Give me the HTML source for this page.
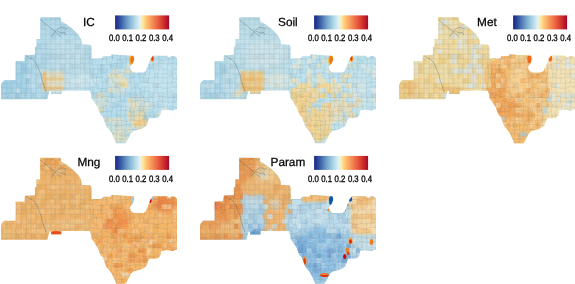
<!DOCTYPE html><html><head><meta charset="utf-8"><style>html,body{margin:0;padding:0;background:#fff;}svg{display:block}</style></head><body>
<svg width="575" height="284" viewBox="0 0 575 284" text-rendering="geometricPrecision">
<defs>
<clipPath id="m"><path d="M40.2,17.2 L60.5,17.2 L61.2,21.3 L63.5,22.5 L67.6,25.1 L72.9,29.3 L76.0,32.3 L78.2,34.6 L80.6,38.6 L81.6,41.0 L81.8,44.6 L89.7,44.7 L91.0,45.5 L91.6,47.0 L91.6,58.6 L100.7,58.6 L102.5,57.8 L103.5,56.3 L110.8,56.3 L111.5,54.6 L120.0,55.1 L133.0,55.7 L134.0,56.1 L134.2,59.5 L132.5,63.5 L130.0,66.5 L130.5,70.0 L133.5,72.6 L143.5,72.6 L145.8,70.7 L148.3,64.4 L150.5,59.1 L153.0,55.8 L166.9,55.8 L168.0,57.0 L170.4,57.5 L171.1,56.0 L175.0,56.3 L176.8,58.1 L177.0,60.0 L177.0,109.0 L172.4,110.5 L168.2,109.8 L164.6,109.8 L161.1,110.5 L160.4,114.7 L158.3,117.6 L154.1,118.3 L149.5,118.0 L148.0,120.5 L147.3,123.5 L146.0,126.0 L143.5,127.8 L140.5,129.0 L137.0,130.0 L133.5,131.0 L130.8,133.0 L129.8,135.6 L127.0,140.8 L125.5,143.3 L116.2,143.3 L114.7,139.4 L112.9,135.2 L111.7,132.8 L109.3,129.8 L106.4,126.2 L104.6,121.4 L102.8,116.8 L100.4,114.3 L98.6,109.5 L98.0,107.4 L95.8,104.2 L93.7,101.0 L91.6,98.4 L91.1,94.2 L90.0,90.5 L61.5,90.5 L61.5,94.0 L51.0,94.0 L51.0,90.7 L49.5,90.7 L47.3,99.2 L1.0,99.2 L1.0,86.0 L1.8,83.0 L4.2,80.3 L15.7,80.3 L15.7,61.2 L24.5,61.2 L24.9,55.3 L34.9,54.8 L34.9,46.8 L36.5,46.8 L36.5,38.9 L40.2,38.9 Z"/></clipPath>
<clipPath id="nw"><rect x="0" y="0" width="91" height="145"/></clipPath>
<clipPath id="se"><rect x="91" y="0" width="90" height="145"/></clipPath>
<linearGradient id="cb" x1="0" x2="1" y1="0" y2="0"><stop offset="0.0" stop-color="#1c2a85"/><stop offset="0.04" stop-color="#23388f"/><stop offset="0.12" stop-color="#3d63aa"/><stop offset="0.24" stop-color="#74a6cd"/><stop offset="0.36" stop-color="#aed6e6"/><stop offset="0.46" stop-color="#e4f3f5"/><stop offset="0.51" stop-color="#fee9a2"/><stop offset="0.57" stop-color="#fdc878"/><stop offset="0.67" stop-color="#f8985a"/><stop offset="0.79" stop-color="#ea6040"/><stop offset="0.9" stop-color="#cf2f2c"/><stop offset="1.0" stop-color="#a6062a"/></linearGradient>
<filter id="bl" x="-20%" y="-20%" width="140%" height="140%"><feGaussianBlur stdDeviation="2.2"/></filter>
<filter id="bl3" x="-20%" y="-20%" width="140%" height="140%"><feGaussianBlur stdDeviation="0.5"/></filter>
<filter id="bl2" x="-20%" y="-20%" width="140%" height="140%"><feGaussianBlur stdDeviation="0.8"/></filter>
<pattern id="tex" width="39.20" height="39.20" patternUnits="userSpaceOnUse" patternTransform="translate(1.6,0)"><rect x="0.00" y="0.00" width="4.90" height="4.90" fill="#fff" fill-opacity="0.05"/><rect x="0.00" y="9.80" width="4.90" height="4.90" fill="#fff" fill-opacity="0.08"/><rect x="0.00" y="14.70" width="4.90" height="4.90" fill="#000" fill-opacity="0.02"/><rect x="0.00" y="19.60" width="4.90" height="4.90" fill="#000" fill-opacity="0.02"/><rect x="0.00" y="24.50" width="4.90" height="4.90" fill="#000" fill-opacity="0.02"/><rect x="0.00" y="29.40" width="4.90" height="4.90" fill="#fff" fill-opacity="0.07"/><rect x="4.90" y="0.00" width="4.90" height="4.90" fill="#fff" fill-opacity="0.06"/><rect x="4.90" y="14.70" width="4.90" height="4.90" fill="#000" fill-opacity="0.02"/><rect x="4.90" y="24.50" width="4.90" height="4.90" fill="#fff" fill-opacity="0.10"/><rect x="4.90" y="29.40" width="4.90" height="4.90" fill="#fff" fill-opacity="0.05"/><rect x="4.90" y="34.30" width="4.90" height="4.90" fill="#fff" fill-opacity="0.06"/><rect x="9.80" y="4.90" width="4.90" height="4.90" fill="#fff" fill-opacity="0.08"/><rect x="9.80" y="14.70" width="4.90" height="4.90" fill="#000" fill-opacity="0.03"/><rect x="9.80" y="19.60" width="4.90" height="4.90" fill="#fff" fill-opacity="0.04"/><rect x="9.80" y="24.50" width="4.90" height="4.90" fill="#fff" fill-opacity="0.09"/><rect x="9.80" y="29.40" width="4.90" height="4.90" fill="#000" fill-opacity="0.02"/><rect x="9.80" y="34.30" width="4.90" height="4.90" fill="#000" fill-opacity="0.03"/><rect x="14.70" y="0.00" width="4.90" height="4.90" fill="#fff" fill-opacity="0.10"/><rect x="14.70" y="9.80" width="4.90" height="4.90" fill="#fff" fill-opacity="0.08"/><rect x="14.70" y="14.70" width="4.90" height="4.90" fill="#000" fill-opacity="0.04"/><rect x="14.70" y="24.50" width="4.90" height="4.90" fill="#fff" fill-opacity="0.11"/><rect x="14.70" y="29.40" width="4.90" height="4.90" fill="#fff" fill-opacity="0.07"/><rect x="19.60" y="0.00" width="4.90" height="4.90" fill="#fff" fill-opacity="0.07"/><rect x="19.60" y="4.90" width="4.90" height="4.90" fill="#fff" fill-opacity="0.09"/><rect x="19.60" y="14.70" width="4.90" height="4.90" fill="#000" fill-opacity="0.04"/><rect x="19.60" y="19.60" width="4.90" height="4.90" fill="#fff" fill-opacity="0.09"/><rect x="19.60" y="24.50" width="4.90" height="4.90" fill="#000" fill-opacity="0.03"/><rect x="19.60" y="29.40" width="4.90" height="4.90" fill="#000" fill-opacity="0.04"/><rect x="24.50" y="0.00" width="4.90" height="4.90" fill="#000" fill-opacity="0.03"/><rect x="24.50" y="4.90" width="4.90" height="4.90" fill="#fff" fill-opacity="0.09"/><rect x="24.50" y="24.50" width="4.90" height="4.90" fill="#fff" fill-opacity="0.07"/><rect x="24.50" y="34.30" width="4.90" height="4.90" fill="#fff" fill-opacity="0.07"/><rect x="29.40" y="0.00" width="4.90" height="4.90" fill="#fff" fill-opacity="0.05"/><rect x="29.40" y="4.90" width="4.90" height="4.90" fill="#fff" fill-opacity="0.09"/><rect x="29.40" y="9.80" width="4.90" height="4.90" fill="#fff" fill-opacity="0.06"/><rect x="29.40" y="14.70" width="4.90" height="4.90" fill="#000" fill-opacity="0.04"/><rect x="29.40" y="19.60" width="4.90" height="4.90" fill="#fff" fill-opacity="0.07"/><rect x="29.40" y="24.50" width="4.90" height="4.90" fill="#000" fill-opacity="0.04"/><rect x="34.30" y="0.00" width="4.90" height="4.90" fill="#fff" fill-opacity="0.07"/><rect x="34.30" y="4.90" width="4.90" height="4.90" fill="#000" fill-opacity="0.04"/><rect x="34.30" y="14.70" width="4.90" height="4.90" fill="#fff" fill-opacity="0.05"/><rect x="34.30" y="19.60" width="4.90" height="4.90" fill="#fff" fill-opacity="0.06"/><rect x="34.30" y="24.50" width="4.90" height="4.90" fill="#000" fill-opacity="0.03"/><rect x="34.30" y="29.40" width="4.90" height="4.90" fill="#fff" fill-opacity="0.04"/><rect x="34.30" y="34.30" width="4.90" height="4.90" fill="#000" fill-opacity="0.02"/><path d="M2.45,0 V39.20 M0,2.45 H39.20 M7.35,0 V39.20 M0,7.35 H39.20 M12.25,0 V39.20 M0,12.25 H39.20 M17.15,0 V39.20 M0,17.15 H39.20 M22.05,0 V39.20 M0,22.05 H39.20 M26.95,0 V39.20 M0,26.95 H39.20 M31.85,0 V39.20 M0,31.85 H39.20 M36.75,0 V39.20 M0,36.75 H39.20" stroke="#6f7f8a" stroke-width="0.4" stroke-opacity="0.12" fill="none"/><path d="M0.00,0 V39.20 M0,0.00 H39.20 M4.90,0 V39.20 M0,4.90 H39.20 M9.80,0 V39.20 M0,9.80 H39.20 M14.70,0 V39.20 M0,14.70 H39.20 M19.60,0 V39.20 M0,19.60 H39.20 M24.50,0 V39.20 M0,24.50 H39.20 M29.40,0 V39.20 M0,29.40 H39.20 M34.30,0 V39.20 M0,34.30 H39.20" stroke="#5f6f7a" stroke-width="0.5" stroke-opacity="0.38" fill="none"/></pattern>
<pattern id="tex2" width="39.20" height="39.20" patternUnits="userSpaceOnUse" patternTransform="translate(1.6,0)"><rect x="0.00" y="0.00" width="4.90" height="4.90" fill="#fff" fill-opacity="0.05"/><rect x="0.00" y="9.80" width="4.90" height="4.90" fill="#fff" fill-opacity="0.08"/><rect x="0.00" y="14.70" width="4.90" height="4.90" fill="#000" fill-opacity="0.02"/><rect x="0.00" y="19.60" width="4.90" height="4.90" fill="#000" fill-opacity="0.02"/><rect x="0.00" y="24.50" width="4.90" height="4.90" fill="#000" fill-opacity="0.02"/><rect x="0.00" y="29.40" width="4.90" height="4.90" fill="#fff" fill-opacity="0.07"/><rect x="4.90" y="0.00" width="4.90" height="4.90" fill="#fff" fill-opacity="0.06"/><rect x="4.90" y="14.70" width="4.90" height="4.90" fill="#000" fill-opacity="0.02"/><rect x="4.90" y="24.50" width="4.90" height="4.90" fill="#fff" fill-opacity="0.10"/><rect x="4.90" y="29.40" width="4.90" height="4.90" fill="#fff" fill-opacity="0.05"/><rect x="4.90" y="34.30" width="4.90" height="4.90" fill="#fff" fill-opacity="0.06"/><rect x="9.80" y="4.90" width="4.90" height="4.90" fill="#fff" fill-opacity="0.08"/><rect x="9.80" y="14.70" width="4.90" height="4.90" fill="#000" fill-opacity="0.03"/><rect x="9.80" y="19.60" width="4.90" height="4.90" fill="#fff" fill-opacity="0.04"/><rect x="9.80" y="24.50" width="4.90" height="4.90" fill="#fff" fill-opacity="0.09"/><rect x="9.80" y="29.40" width="4.90" height="4.90" fill="#000" fill-opacity="0.02"/><rect x="9.80" y="34.30" width="4.90" height="4.90" fill="#000" fill-opacity="0.03"/><rect x="14.70" y="0.00" width="4.90" height="4.90" fill="#fff" fill-opacity="0.10"/><rect x="14.70" y="9.80" width="4.90" height="4.90" fill="#fff" fill-opacity="0.08"/><rect x="14.70" y="14.70" width="4.90" height="4.90" fill="#000" fill-opacity="0.04"/><rect x="14.70" y="24.50" width="4.90" height="4.90" fill="#fff" fill-opacity="0.11"/><rect x="14.70" y="29.40" width="4.90" height="4.90" fill="#fff" fill-opacity="0.07"/><rect x="19.60" y="0.00" width="4.90" height="4.90" fill="#fff" fill-opacity="0.07"/><rect x="19.60" y="4.90" width="4.90" height="4.90" fill="#fff" fill-opacity="0.09"/><rect x="19.60" y="14.70" width="4.90" height="4.90" fill="#000" fill-opacity="0.04"/><rect x="19.60" y="19.60" width="4.90" height="4.90" fill="#fff" fill-opacity="0.09"/><rect x="19.60" y="24.50" width="4.90" height="4.90" fill="#000" fill-opacity="0.03"/><rect x="19.60" y="29.40" width="4.90" height="4.90" fill="#000" fill-opacity="0.04"/><rect x="24.50" y="0.00" width="4.90" height="4.90" fill="#000" fill-opacity="0.03"/><rect x="24.50" y="4.90" width="4.90" height="4.90" fill="#fff" fill-opacity="0.09"/><rect x="24.50" y="24.50" width="4.90" height="4.90" fill="#fff" fill-opacity="0.07"/><rect x="24.50" y="34.30" width="4.90" height="4.90" fill="#fff" fill-opacity="0.07"/><rect x="29.40" y="0.00" width="4.90" height="4.90" fill="#fff" fill-opacity="0.05"/><rect x="29.40" y="4.90" width="4.90" height="4.90" fill="#fff" fill-opacity="0.09"/><rect x="29.40" y="9.80" width="4.90" height="4.90" fill="#fff" fill-opacity="0.06"/><rect x="29.40" y="14.70" width="4.90" height="4.90" fill="#000" fill-opacity="0.04"/><rect x="29.40" y="19.60" width="4.90" height="4.90" fill="#fff" fill-opacity="0.07"/><rect x="29.40" y="24.50" width="4.90" height="4.90" fill="#000" fill-opacity="0.04"/><rect x="34.30" y="0.00" width="4.90" height="4.90" fill="#fff" fill-opacity="0.07"/><rect x="34.30" y="4.90" width="4.90" height="4.90" fill="#000" fill-opacity="0.04"/><rect x="34.30" y="14.70" width="4.90" height="4.90" fill="#fff" fill-opacity="0.05"/><rect x="34.30" y="19.60" width="4.90" height="4.90" fill="#fff" fill-opacity="0.06"/><rect x="34.30" y="24.50" width="4.90" height="4.90" fill="#000" fill-opacity="0.03"/><rect x="34.30" y="29.40" width="4.90" height="4.90" fill="#fff" fill-opacity="0.04"/><rect x="34.30" y="34.30" width="4.90" height="4.90" fill="#000" fill-opacity="0.02"/></pattern>
<path id="jn" d="M83.2,45.4L88.8,45.1M83.2,45.4L84.2,49.9M84.2,49.9L89.0,50.8M83.3,54.9L82.6,59.4M82.6,59.4L88.9,59.3M82.6,59.4L83.6,64.7M83.6,64.7L89.1,63.9M83.6,64.7L82.4,68.4M82.4,68.4L87.1,69.1M82.4,68.4L82.4,74.2M82.4,74.2L88.6,73.0M82.4,74.2L83.7,77.2M83.7,77.2L87.1,77.8M83.7,77.2L84.4,83.9M84.4,83.9L89.0,83.5M84.4,83.9L83.6,87.9M83.6,87.9L87.2,87.0M82.5,91.2L87.1,91.3M82.5,91.2L83.4,96.0M83.4,96.0L88.7,96.3M83.4,96.0L82.6,101.1M82.6,101.1L88.1,101.6M82.6,101.1L82.3,106.3M83.2,111.9L87.2,111.4M83.2,111.9L83.3,116.1M83.3,116.1L87.2,115.6M83.3,116.1L83.3,120.9M83.3,120.9L87.4,120.0M83.2,124.7L89.0,125.9M83.2,124.7L84.4,131.0M84.4,131.0L87.6,130.7M84.0,135.1L87.4,134.4M84.0,135.1L82.9,138.7M82.9,138.7L88.8,139.6M82.9,138.7L82.8,143.1M82.8,143.1L87.1,145.1M82.8,143.1L83.9,148.5M83.9,148.5L87.4,148.2M88.8,45.1L93.3,44.9M88.8,45.1L89.0,50.8M89.0,50.8L92.3,49.1M89.0,50.8L86.9,54.1M86.9,54.1L91.8,54.9M86.9,54.1L88.9,59.3M88.9,59.3L92.1,59.6M88.9,59.3L89.1,63.9M89.1,63.9L92.4,64.0M89.1,63.9L87.1,69.1M87.1,69.1L93.7,68.8M88.6,73.0L92.9,74.3M88.6,73.0L87.1,77.8M87.1,77.8L92.0,77.4M87.1,77.8L89.0,83.5M89.0,83.5L87.2,87.0M87.2,87.0L92.1,86.9M87.2,87.0L87.1,91.3M87.1,91.3L93.2,93.3M88.7,96.3L92.0,98.0M88.7,96.3L88.1,101.6M88.1,101.6L93.5,101.9M88.1,101.6L87.3,106.9M87.3,106.9L92.5,105.5M87.3,106.9L87.2,111.4M87.2,111.4L91.7,112.1M87.2,111.4L87.2,115.6M87.2,115.6L87.4,120.0M87.4,120.0L92.2,121.2M87.4,120.0L89.0,125.9M89.0,125.9L92.9,124.7M89.0,125.9L87.6,130.7M87.6,130.7L87.4,134.4M87.4,134.4L91.8,134.0M87.4,134.4L88.8,139.6M88.8,139.6L92.8,140.1M88.8,139.6L87.1,145.1M87.1,145.1L93.0,143.5M87.1,145.1L87.4,148.2M87.4,148.2L93.6,148.0M93.3,44.9L96.3,44.8M93.3,44.9L92.3,49.1M92.3,49.1L97.3,49.0M91.8,54.9L96.7,54.4M92.1,59.6L97.6,58.6M92.1,59.6L92.4,64.0M92.4,64.0L97.1,65.0M92.4,64.0L93.7,68.8M93.7,68.8L98.5,69.1M93.7,68.8L92.9,74.3M92.9,74.3L97.8,73.7M92.9,74.3L92.0,77.4M92.0,77.4L96.6,77.2M92.0,77.4L93.6,83.6M93.6,83.6L96.3,83.8M92.1,86.9L97.8,88.6M92.1,86.9L93.2,93.3M93.2,93.3L96.3,92.6M93.2,93.3L92.0,98.0M92.0,98.0L97.4,97.5M93.5,101.9L92.5,105.5M92.5,105.5L96.5,106.5M92.5,105.5L91.7,112.1M91.7,112.1L97.9,112.0M91.7,112.1L92.1,116.3M92.1,116.3L92.2,121.2M92.2,121.2L98.0,121.4M92.2,121.2L92.9,124.7M92.9,124.7L97.1,125.6M92.9,124.7L92.0,130.4M92.0,130.4L91.8,134.0M91.8,134.0L92.8,140.1M92.8,140.1L98.2,139.5M92.8,140.1L93.0,143.5M93.0,143.5L97.7,143.7M93.0,143.5L93.6,148.0M96.3,44.8L101.2,45.6M97.3,49.0L103.2,50.8M96.7,54.4L102.6,54.5M96.7,54.4L97.6,58.6M97.6,58.6L102.6,59.6M97.1,65.0L102.0,64.8M97.1,65.0L98.5,69.1M98.5,69.1L101.2,69.4M98.5,69.1L97.8,73.7M97.8,73.7L96.6,77.2M96.6,77.2L102.1,77.6M96.6,77.2L96.3,83.8M96.3,83.8L97.8,88.6M97.8,88.6L102.4,88.5M96.3,92.6L101.6,91.2M96.3,92.6L97.4,97.5M97.4,97.5L97.0,102.8M97.0,102.8L101.4,101.0M97.0,102.8L96.5,106.5M97.9,112.0L102.0,112.0M97.9,112.0L97.9,116.2M97.9,116.2L101.7,116.2M97.9,116.2L98.0,121.4M98.0,121.4L101.4,120.3M98.0,121.4L97.1,125.6M97.1,125.6L102.8,126.1M97.1,125.6L98.3,130.7M98.3,130.7L102.9,129.6M98.3,130.7L97.2,135.2M97.2,135.2L102.3,134.2M97.2,135.2L98.2,139.5M98.2,139.5L101.3,139.3M97.7,143.7L102.8,144.8M97.7,143.7L97.6,148.9M101.2,45.6L106.3,44.6M101.2,45.6L103.2,50.8M103.2,50.8L106.7,49.5M103.2,50.8L102.6,54.5M102.6,54.5L106.2,54.5M102.6,54.5L102.6,59.6M102.6,59.6L107.1,59.4M102.6,59.6L102.0,64.8M102.0,64.8L106.4,64.8M102.0,64.8L101.2,69.4M101.2,69.4L107.9,68.7M101.2,69.4L101.1,73.7M101.1,73.7L105.9,72.5M101.1,73.7L102.1,77.6M102.1,77.6L102.5,82.9M102.5,82.9L107.3,83.1M102.5,82.9L102.4,88.5M102.4,88.5L106.4,88.2M102.4,88.5L101.6,91.2M101.6,91.2L105.7,91.5M101.6,91.2L101.7,97.4M101.7,97.4L106.7,96.0M101.7,97.4L101.4,101.0M101.4,101.0L107.5,101.1M103.0,106.8L106.0,105.4M103.0,106.8L102.0,112.0M102.0,112.0L107.1,111.0M101.7,116.2L107.1,116.1M101.7,116.2L101.4,120.3M101.4,120.3L107.5,121.5M101.4,120.3L102.8,126.1M102.8,126.1L107.2,124.5M102.8,126.1L102.9,129.6M102.9,129.6L106.7,129.2M102.3,134.2L105.7,134.5M102.3,134.2L101.3,139.3M101.3,139.3L107.3,138.6M101.3,139.3L102.8,144.8M102.8,144.8L106.3,143.7M102.6,149.7L107.2,148.7M106.3,44.6L111.8,45.9M106.7,49.5L111.3,50.6M106.7,49.5L106.2,54.5M106.2,54.5L112.4,53.8M106.2,54.5L107.1,59.4M107.1,59.4L106.4,64.8M106.4,64.8L110.7,64.0M107.9,68.7L105.9,72.5M105.9,72.5L107.6,77.2M107.6,77.2L112.3,78.9M107.6,77.2L107.3,83.1M107.3,83.1L106.4,88.2M106.4,88.2L111.8,87.0M106.4,88.2L105.7,91.5M105.7,91.5L112.0,93.0M106.7,96.0L111.8,97.5M106.7,96.0L107.5,101.1M107.5,101.1L110.9,102.6M107.5,101.1L106.0,105.4M106.0,105.4L112.6,107.5M106.0,105.4L107.1,111.0M107.1,111.0L111.6,111.7M107.1,111.0L107.1,116.1M107.1,116.1L111.1,116.7M107.1,116.1L107.5,121.5M107.2,124.5L110.6,125.1M107.2,124.5L106.7,129.2M106.7,129.2L111.6,130.5M106.7,129.2L105.7,134.5M105.7,134.5L111.5,133.6M105.7,134.5L107.3,138.6M107.3,138.6L112.2,138.3M107.3,138.6L106.3,143.7M106.3,143.7L112.2,143.3M106.3,143.7L107.2,148.7M107.2,148.7L111.1,149.3M111.8,45.9L115.4,44.5M111.8,45.9L111.3,50.6M111.3,50.6L116.2,50.5M112.4,53.8L116.9,55.1M112.4,53.8L112.5,59.9M112.5,59.9L110.7,64.0M110.7,64.0L117.2,63.2M110.7,64.0L111.8,69.7M111.8,69.7L115.6,68.9M111.2,73.7L115.7,74.0M111.2,73.7L112.3,78.9M112.3,78.9L112.5,82.8M112.5,82.8L117.0,83.0M111.8,87.0L115.8,87.3M111.8,87.0L112.0,93.0M112.0,93.0L111.8,97.5M111.8,97.5L115.6,97.8M111.8,97.5L110.9,102.6M110.9,102.6L117.2,101.8M112.6,107.5L116.4,105.7M112.6,107.5L111.6,111.7M111.6,111.7L111.1,116.7M111.1,116.7L112.3,120.2M112.3,120.2L117.2,120.5M112.3,120.2L110.6,125.1M110.6,125.1L116.0,125.9M110.6,125.1L111.6,130.5M111.6,130.5L111.5,133.6M111.5,133.6L116.6,133.6M111.5,133.6L112.2,138.3M112.2,138.3L116.3,139.1M112.2,138.3L112.2,143.3M112.2,143.3L117.2,144.9M112.2,143.3L111.1,149.3M111.1,149.3L115.7,148.6M115.4,44.5L120.1,45.2M115.4,44.5L116.2,50.5M116.2,50.5L121.6,50.9M116.2,50.5L116.9,55.1M116.9,55.1L120.8,54.3M116.9,55.1L117.2,59.4M117.2,59.4L120.2,59.7M117.2,59.4L117.2,63.2M117.2,63.2L121.8,63.3M117.2,63.2L115.6,68.9M115.6,68.9L121.5,67.8M115.6,68.9L115.7,74.0M115.7,74.0L120.2,72.9M115.7,74.0L116.5,78.3M117.0,83.0L120.6,83.2M117.0,83.0L115.8,87.3M115.8,87.3L120.0,88.1M115.8,87.3L117.0,93.2M117.0,93.2L115.6,97.8M115.6,97.8L120.4,96.3M115.6,97.8L117.2,101.8M117.2,101.8L121.0,101.6M116.4,105.7L120.6,106.2M116.4,105.7L116.3,111.1M116.3,111.1L121.0,110.4M116.3,111.1L116.4,114.8M116.4,114.8L120.2,116.1M116.4,114.8L117.2,120.5M117.2,120.5L121.2,120.6M117.2,120.5L116.0,125.9M116.0,125.9L121.7,125.4M116.0,125.9L116.3,129.9M116.3,129.9L121.7,129.3M116.3,129.9L116.6,133.6M116.6,133.6L121.4,135.3M116.6,133.6L116.3,139.1M116.3,139.1L121.8,138.9M116.3,139.1L117.2,144.9M117.2,144.9L120.5,144.9M117.2,144.9L115.7,148.6M115.7,148.6L120.3,149.8M120.1,45.2L121.6,50.9M121.6,50.9L125.0,50.5M121.6,50.9L120.8,54.3M120.8,54.3L125.1,53.8M120.8,54.3L120.2,59.7M120.2,59.7L126.3,59.2M120.2,59.7L121.8,63.3M121.8,63.3L126.2,63.3M121.8,63.3L121.5,67.8M121.5,67.8L125.4,69.2M120.2,72.9L124.5,72.8M120.6,83.2L120.0,88.1M120.0,88.1L120.1,92.3M120.1,92.3L125.6,92.7M120.1,92.3L120.4,96.3M120.4,96.3L121.0,101.6M121.0,101.6L124.7,100.7M120.6,106.2L125.7,106.4M120.6,106.2L121.0,110.4M121.0,110.4L125.8,110.3M121.0,110.4L120.2,116.1M120.2,116.1L124.9,115.1M120.2,116.1L121.2,120.6M121.2,120.6L126.3,121.6M121.2,120.6L121.7,125.4M121.7,125.4L126.5,124.3M121.7,125.4L121.7,129.3M121.7,129.3L124.6,130.9M121.7,129.3L121.4,135.3M121.4,135.3L125.5,135.2M121.4,135.3L121.8,138.9M121.8,138.9L125.2,139.2M121.8,138.9L120.5,144.9M120.5,144.9L125.6,143.8M120.5,144.9L120.3,149.8M126.5,44.5L130.7,46.1M126.5,44.5L125.0,50.5M125.0,50.5L129.6,49.9M125.0,50.5L125.1,53.8M125.1,53.8L126.3,59.2M126.3,59.2L129.6,58.7M126.3,59.2L126.2,63.3M126.2,63.3L125.4,69.2M125.4,69.2L131.2,69.5M125.4,69.2L124.5,72.8M124.5,72.8L130.8,74.3M124.5,72.8L126.0,79.1M126.0,79.1L130.6,78.0M126.6,82.1L130.5,82.9M125.6,88.2L125.6,92.7M125.6,92.7L129.8,93.2M125.6,92.7L124.9,96.1M124.9,96.1L124.7,100.7M124.7,100.7L125.7,106.4M125.7,106.4L131.2,107.2M125.7,106.4L125.8,110.3M125.8,110.3L130.7,111.7M125.8,110.3L124.9,115.1M124.9,115.1L130.9,115.6M124.9,115.1L126.3,121.6M126.3,121.6L130.8,119.6M126.3,121.6L126.5,124.3M126.5,124.3L130.0,125.1M126.5,124.3L124.6,130.9M124.6,130.9L129.2,129.6M124.6,130.9L125.5,135.2M125.5,135.2L130.6,134.9M125.5,135.2L125.2,139.2M125.6,143.8L125.8,147.6M125.8,147.6L130.7,148.9M130.7,46.1L135.1,45.1M129.6,49.9L136.1,50.3M130.8,54.5L135.4,55.3M129.6,58.7L136.1,58.4M129.6,58.7L130.3,63.0M130.3,63.0L135.3,64.6M130.3,63.0L131.2,69.5M131.2,69.5L134.5,68.6M131.2,69.5L130.8,74.3M130.6,78.0L134.7,77.3M130.6,78.0L130.5,82.9M130.5,82.9L131.4,88.3M131.4,88.3L135.1,87.6M131.4,88.3L129.8,93.2M129.8,93.2L136.0,92.4M129.8,93.2L130.8,97.6M130.8,97.6L136.1,97.3M130.8,97.6L131.0,101.5M131.0,101.5L135.7,100.8M131.0,101.5L131.2,107.2M131.2,107.2L130.7,111.7M130.7,111.7L134.0,112.0M130.7,111.7L130.9,115.6M130.9,115.6L134.3,115.7M130.9,115.6L130.8,119.6M130.8,119.6L134.3,120.5M130.8,119.6L130.0,125.1M130.0,125.1L135.2,124.2M130.0,125.1L129.2,129.6M129.2,129.6L136.0,129.7M130.7,143.6L135.3,144.1M130.7,143.6L130.7,148.9M130.7,148.9L134.5,149.2M135.1,45.1L139.3,44.2M136.1,50.3L139.1,49.0M136.1,50.3L135.4,55.3M135.4,55.3L136.1,58.4M136.1,58.4L139.5,60.3M136.1,58.4L135.3,64.6M135.3,64.6L140.2,63.1M135.3,64.6L134.5,68.6M134.5,68.6L140.8,69.8M134.5,68.6L134.0,72.8M134.0,72.8L138.8,74.4M134.0,72.8L134.7,77.3M134.7,77.3L134.5,83.8M134.5,83.8L140.7,82.3M134.5,83.8L135.1,87.6M135.1,87.6L139.8,88.6M135.1,87.6L136.0,92.4M136.0,92.4L136.1,97.3M136.1,97.3L140.8,97.7M136.1,97.3L135.7,100.8M135.7,100.8L139.9,100.9M135.7,100.8L135.2,107.0M135.2,107.0L140.0,106.3M135.2,107.0L134.0,112.0M134.0,112.0L139.0,110.1M134.0,112.0L134.3,115.7M134.3,115.7L139.8,115.0M134.3,115.7L134.3,120.5M134.3,120.5L139.6,120.9M135.2,124.2L139.6,124.7M135.2,124.2L136.0,129.7M136.0,129.7L139.9,129.7M136.0,129.7L135.1,134.8M135.1,134.8L140.3,134.7M135.1,134.8L134.7,138.8M135.3,144.1L134.5,149.2M134.5,149.2L138.9,149.6M139.3,44.2L139.1,49.0M139.1,49.0L144.1,49.5M139.1,49.0L138.9,55.3M138.9,55.3L144.8,54.8M138.9,55.3L139.5,60.3M139.5,60.3L144.6,59.7M139.5,60.3L140.2,63.1M140.2,63.1L145.0,63.4M140.2,63.1L140.8,69.8M140.8,69.8L138.8,74.4M138.8,74.4L145.3,74.3M138.8,74.4L139.5,78.2M139.5,78.2L143.4,77.2M139.5,78.2L140.7,82.3M140.7,82.3L143.9,82.7M139.8,88.6L144.7,86.7M139.8,88.6L140.2,92.2M140.2,92.2L144.5,91.4M140.2,92.2L140.8,97.7M140.8,97.7L143.5,97.4M140.8,97.7L139.9,100.9M139.9,100.9L144.5,102.0M140.0,106.3L144.1,106.4M140.0,106.3L139.0,110.1M139.0,110.1L143.8,110.8M139.0,110.1L139.8,115.0M139.8,115.0L144.9,116.5M139.8,115.0L139.6,120.9M139.6,120.9L143.5,119.7M139.6,120.9L139.6,124.7M139.6,124.7L145.1,125.5M139.6,124.7L139.9,129.7M139.9,129.7L140.3,134.7M140.3,134.7L144.2,134.1M140.3,134.7L140.8,140.3M140.8,140.3L145.1,139.0M140.8,140.3L140.2,143.4M140.2,143.4L144.7,145.1M140.2,143.4L138.9,149.6M138.9,149.6L144.0,148.8M145.0,45.6L149.6,46.2M145.0,45.6L144.1,49.5M144.1,49.5L144.8,54.8M144.8,54.8L148.2,55.5M144.8,54.8L144.6,59.7M144.6,59.7L148.2,58.5M144.6,59.7L145.0,63.4M145.0,63.4L143.8,69.9M143.8,69.9L149.5,68.4M143.8,69.9L145.3,74.3M145.3,74.3L149.7,72.6M145.3,74.3L143.4,77.2M143.4,77.2L148.5,78.6M143.4,77.2L143.9,82.7M143.9,82.7L148.2,82.5M144.7,86.7L149.6,88.0M144.7,86.7L144.5,91.4M144.5,91.4L148.6,91.5M144.5,91.4L143.5,97.4M143.5,97.4L148.8,97.5M143.5,97.4L144.5,102.0M144.5,102.0L148.8,100.9M144.5,102.0L144.1,106.4M144.1,106.4L149.6,106.6M144.1,106.4L143.8,110.8M143.8,110.8L144.9,116.5M144.9,116.5L150.0,115.7M144.9,116.5L143.5,119.7M143.5,119.7L149.8,120.1M143.5,119.7L145.1,125.5M145.1,125.5L148.7,125.0M145.1,125.5L145.0,129.3M145.0,129.3L150.1,130.8M145.0,129.3L144.2,134.1M144.2,134.1L148.5,134.3M145.1,139.0L148.8,139.0M145.1,139.0L144.7,145.1M144.7,145.1L148.9,143.8M144.7,145.1L144.0,148.8M144.0,148.8L148.4,148.8M149.6,46.2L154.5,45.4M149.6,46.2L148.9,49.7M148.9,49.7L154.5,50.1M148.9,49.7L148.2,55.5M148.2,55.5L153.1,55.3M148.2,58.5L154.6,58.9M149.2,64.1L149.5,68.4M149.5,68.4L153.9,68.9M149.5,68.4L149.7,72.6M149.7,72.6L148.5,78.6M148.5,78.6L154.5,77.2M148.5,78.6L148.2,82.5M148.2,82.5L153.9,83.5M148.2,82.5L149.6,88.0M149.6,88.0L148.6,91.5M148.6,91.5L154.3,93.2M148.6,91.5L148.8,97.5M148.8,97.5L152.9,97.3M148.8,97.5L148.8,100.9M148.8,100.9L153.0,102.2M148.8,100.9L149.6,106.6M149.6,106.6L154.1,105.8M150.0,112.1L153.2,111.7M150.0,112.1L150.0,115.7M150.0,115.7L153.8,116.4M150.0,115.7L149.8,120.1M149.8,120.1L153.6,120.1M149.8,120.1L148.7,125.0M148.7,125.0L154.8,125.6M150.1,130.8L153.8,130.0M150.1,130.8L148.5,134.3M148.8,139.0L154.7,139.1M148.8,139.0L148.9,143.8M148.9,143.8L154.5,144.4M148.9,143.8L148.4,148.8M148.4,148.8L154.6,149.4M154.5,45.4L159.2,46.2M154.5,45.4L154.5,50.1M154.5,50.1L159.5,50.3M154.5,50.1L153.1,55.3M153.1,55.3L158.6,55.2M154.6,58.9L159.2,59.2M154.6,58.9L152.7,64.1M152.7,64.1L158.3,63.3M152.7,64.1L153.9,68.9M153.9,68.9L159.0,69.9M153.9,68.9L154.8,73.8M154.8,73.8L158.2,72.8M154.8,73.8L154.5,77.2M154.5,77.2L157.8,78.0M154.5,77.2L153.9,83.5M153.9,83.5L158.0,83.9M153.9,83.5L152.9,86.7M152.9,86.7L157.5,87.2M152.9,86.7L154.3,93.2M154.3,93.2L157.7,92.6M154.3,93.2L152.9,97.3M152.9,97.3L159.1,96.3M152.9,97.3L153.0,102.2M153.0,102.2L157.5,101.6M153.0,102.2L154.1,105.8M154.1,105.8L158.7,107.3M154.1,105.8L153.2,111.7M153.2,111.7L153.8,116.4M153.8,116.4L157.8,115.2M153.8,116.4L153.6,120.1M153.6,120.1L157.9,121.0M153.6,120.1L154.8,125.6M154.8,125.6L158.7,124.6M154.8,125.6L153.8,130.0M153.8,130.0L157.8,129.4M153.8,130.0L154.3,135.1M154.3,135.1L154.7,139.1M154.7,139.1L158.1,139.4M154.7,139.1L154.5,144.4M154.5,144.4L159.2,144.0M154.5,144.4L154.6,149.4M154.6,149.4L158.0,149.6M159.2,46.2L164.1,45.0M159.2,46.2L159.5,50.3M159.5,50.3L158.6,55.2M158.6,55.2L159.2,59.2M159.2,59.2L162.2,60.4M159.2,59.2L158.3,63.3M158.3,63.3L163.9,63.8M158.3,63.3L159.0,69.9M159.0,69.9L163.3,68.8M159.0,69.9L158.2,72.8M158.2,72.8L157.8,78.0M157.8,78.0L163.5,77.6M157.8,78.0L158.0,83.9M158.0,83.9L162.1,82.8M158.0,83.9L157.5,87.2M157.5,87.2L162.9,88.3M157.5,87.2L157.7,92.6M157.7,92.6L163.7,92.5M157.7,92.6L159.1,96.3M159.1,96.3L162.4,96.2M159.1,96.3L157.5,101.6M157.5,101.6L162.8,101.2M157.5,101.6L158.7,107.3M158.7,107.3L164.0,106.4M158.7,107.3L157.5,110.2M157.5,110.2L157.8,115.2M157.8,115.2L162.7,115.9M157.8,115.2L157.9,121.0M157.9,121.0L162.4,121.1M157.9,121.0L158.7,124.6M158.7,124.6L162.1,125.9M158.7,124.6L157.8,129.4M157.8,129.4L157.8,135.2M157.8,135.2L162.3,134.1M158.1,139.4L159.2,144.0M159.2,144.0L163.2,143.9M159.2,144.0L158.0,149.6M158.0,149.6L164.2,148.9M164.1,45.0L168.7,44.9M164.1,45.0L163.3,51.0M163.3,51.0L168.5,49.8M163.2,54.1L168.8,53.8M162.2,60.4L168.6,58.8M162.2,60.4L163.9,63.8M163.9,63.8L168.0,64.2M163.3,68.8L167.1,69.5M163.3,68.8L162.7,74.6M162.7,74.6L167.5,73.1M163.5,77.6L167.0,77.8M163.5,77.6L162.1,82.8M162.1,82.8L167.8,83.4M162.9,88.3L167.6,88.0M163.7,92.5L162.4,96.2M162.4,96.2L167.8,98.0M162.4,96.2L162.8,101.2M162.8,101.2L168.6,102.0M162.8,101.2L164.0,106.4M164.0,106.4L163.5,112.2M163.5,112.2L168.4,110.5M163.5,112.2L162.7,115.9M162.7,115.9L168.0,115.7M162.7,115.9L162.4,121.1M162.4,121.1L162.1,125.9M162.1,125.9L164.0,130.6M164.0,130.6L168.2,129.4M164.0,130.6L162.3,134.1M162.3,134.1L167.6,134.7M162.3,134.1L163.7,138.4M163.7,138.4L167.5,138.9M163.7,138.4L163.2,143.9M164.2,148.9L167.4,148.0M168.7,44.9L173.1,44.9M168.7,44.9L168.5,49.8M168.5,49.8L168.8,53.8M168.6,58.8L173.3,58.5M168.6,58.8L168.0,64.2M168.0,64.2L171.8,63.2M168.0,64.2L167.1,69.5M167.1,69.5L167.5,73.1M167.5,73.1L167.0,77.8M167.0,77.8L167.8,83.4M167.8,83.4L171.7,82.3M167.8,83.4L167.6,88.0M167.6,88.0L171.8,86.8M167.6,88.0L167.0,92.1M167.0,92.1L172.4,91.4M167.0,92.1L167.8,98.0M167.8,98.0L173.5,96.8M167.8,98.0L168.6,102.0M168.6,102.0L172.6,102.0M168.6,102.0L166.8,106.1M166.8,106.1L173.2,107.1M166.8,106.1L168.4,110.5M168.4,110.5L172.3,110.7M168.4,110.5L168.0,115.7M168.0,115.7L172.4,114.7M168.0,115.7L166.8,121.6M166.8,121.6L172.4,120.9M166.8,121.6L168.6,124.6M168.6,124.6L168.2,129.4M168.2,129.4L167.6,134.7M167.6,134.7L171.5,134.2M167.6,134.7L167.5,138.9M167.5,138.9L172.3,139.6M167.7,144.4L171.7,143.7M167.7,144.4L167.4,148.0M167.4,148.0L172.6,149.3M173.1,44.9L178.0,45.5M173.1,44.9L173.6,50.1M173.6,50.1L176.5,50.6M173.1,54.3L178.2,54.8M173.1,54.3L173.3,58.5M173.3,58.5L171.8,63.2M171.8,63.2L176.5,64.6M171.8,63.2L173.0,69.3M173.0,69.3L178.4,68.8M173.0,69.3L171.9,73.3M171.9,73.3L177.8,74.2M171.9,73.3L173.3,78.4M173.3,78.4L176.6,79.2M173.3,78.4L171.7,82.3M171.7,82.3L177.6,82.2M171.7,82.3L171.8,86.8M171.8,86.8L176.4,87.0M172.4,91.4L173.5,96.8M173.5,96.8L176.9,97.9M173.5,96.8L172.6,102.0M172.6,102.0L177.0,101.6M172.6,102.0L173.2,107.1M173.2,107.1L176.5,107.4M173.2,107.1L172.3,110.7M172.3,110.7L176.5,112.0M172.4,114.7L177.4,115.9M172.4,114.7L172.4,120.9M172.4,120.9L177.4,120.0M172.4,120.9L173.7,125.8M173.7,125.8L178.2,126.3M173.7,125.8L173.0,130.1M173.0,130.1L178.0,130.1M171.5,134.2L176.5,135.3M172.3,139.6L176.8,140.2M172.3,139.6L171.7,143.7M171.7,143.7L176.7,144.2M171.7,143.7L172.6,149.3M178.0,45.5L182.1,44.4M178.0,45.5L176.5,50.6M176.5,50.6L181.0,49.3M178.2,54.8L183.1,55.7M178.2,54.8L177.0,59.4M177.0,59.4L182.3,59.0M177.0,59.4L176.5,64.6M176.5,64.6L182.4,64.6M178.4,68.8L181.7,69.0M178.4,68.8L177.8,74.2M177.8,74.2L182.7,72.4M177.8,74.2L176.6,79.2M176.6,79.2L181.3,78.1M176.6,79.2L177.6,82.2M177.6,82.2L176.4,87.0M176.4,87.0L182.2,86.9M177.5,92.7L176.9,97.9M176.9,97.9L182.1,96.6M176.9,97.9L177.0,101.6M176.5,107.4L182.4,105.6M176.5,107.4L176.5,112.0M176.5,112.0L183.0,111.3M176.5,112.0L177.4,115.9M177.4,115.9L181.9,115.6M177.4,115.9L177.4,120.0M177.4,120.0L182.3,120.9M177.4,120.0L178.2,126.3M178.2,126.3L178.0,130.1M178.0,130.1L182.0,131.0M176.5,135.3L182.7,135.4M176.5,135.3L176.8,140.2M176.8,140.2L181.8,139.2M176.8,140.2L176.7,144.2M176.7,144.2L182.1,144.9M176.7,144.2L178.0,148.0M178.0,148.0L182.1,148.8M182.1,44.4L186.6,46.2M181.0,49.3L186.3,49.0M183.1,55.7L187.2,55.6M183.1,55.7L182.3,59.0M182.3,59.0L187.2,59.6M182.4,64.6L187.3,63.7M182.4,64.6L181.7,69.0M181.7,69.0L186.9,67.9M181.7,69.0L182.7,72.4M182.7,72.4L185.9,73.4M182.7,72.4L181.3,78.1M181.3,78.1L186.7,78.0M181.3,78.1L181.2,82.7M181.2,82.7L185.7,83.3M181.2,82.7L182.2,86.9M182.2,86.9L186.8,87.0M182.2,86.9L182.0,91.8M182.0,91.8L186.3,92.1M182.0,91.8L182.1,96.6M182.1,96.6L186.1,96.1M182.1,96.6L182.3,100.7M182.3,100.7L187.6,102.7M182.4,105.6L187.1,107.2M182.4,105.6L183.0,111.3M183.0,111.3L186.5,111.8M183.0,111.3L181.9,115.6M181.9,115.6L186.1,116.3M181.9,115.6L182.3,120.9M182.3,120.9L186.8,121.4M182.3,120.9L182.6,125.8M182.6,125.8L185.8,125.8M182.6,125.8L182.0,131.0M182.0,131.0L185.9,130.0M182.0,131.0L182.7,135.4M182.7,135.4L181.8,139.2M181.8,139.2L186.1,138.9M182.1,144.9L186.3,143.0M182.1,144.9L182.1,148.8M182.1,148.8L187.6,149.4M186.6,46.2L186.3,49.0M187.2,55.6L187.2,59.6M187.2,59.6L187.3,63.7M187.3,63.7L186.9,67.9M185.9,73.4L186.7,78.0M186.7,78.0L185.7,83.3M185.7,83.3L186.8,87.0M186.8,87.0L186.3,92.1M186.3,92.1L186.1,96.1M187.6,102.7L187.1,107.2M187.1,107.2L186.5,111.8M186.5,111.8L186.1,116.3M186.1,116.3L186.8,121.4M186.8,121.4L185.8,125.8M185.8,125.8L185.9,130.0M185.9,130.0L187.7,133.5M187.7,133.5L186.1,138.9M186.1,138.9L186.3,143.0M186.3,143.0L187.6,149.4" stroke="#5f6f7a" stroke-width="0.45" stroke-opacity="0.3" fill="none"/>
<filter id="nz" x="0" y="0" width="100%" height="100%"><feTurbulence type="fractalNoise" baseFrequency="0.85" numOctaves="1" seed="5" result="t"/><feColorMatrix in="t" type="matrix" values="0 0 0 0 1  0 0 0 0 1  0 0 0 0 1  0.9 0 0 0 -0.38"/></filter>
</defs>
<rect width="575" height="284" fill="#fff"/>
<g transform="translate(0,0)">
<g clip-path="url(#m)">
<rect x="0" y="0" width="180" height="145" fill="#b1dbec"/>
<g filter="url(#bl)"><ellipse cx="15" cy="80" rx="18" ry="20" fill="#9ad0e8" fill-opacity="0.8"/><ellipse cx="22" cy="60" rx="14" ry="10" fill="#9fd2e9" fill-opacity="0.6"/><ellipse cx="66" cy="48" rx="18" ry="12" fill="#c0e2ee" fill-opacity="0.7"/><ellipse cx="79" cy="81" rx="15" ry="8" fill="#d7ecf3" fill-opacity="0.8"/><ellipse cx="70" cy="62" rx="16" ry="10" fill="#c8e5f0" fill-opacity="0.6"/><ellipse cx="160" cy="85" rx="16" ry="25" fill="#c5e6f1" fill-opacity="0.6"/><ellipse cx="120" cy="84" rx="10" ry="10" fill="#e8deb7" fill-opacity="0.5"/><ellipse cx="100" cy="102" rx="8" ry="9" fill="#e6dfbd" fill-opacity="0.45"/><ellipse cx="138" cy="112" rx="10" ry="14" fill="#ecd8a3" fill-opacity="0.5"/><ellipse cx="118" cy="131" rx="12" ry="10" fill="#e2e0c2" fill-opacity="0.45"/><ellipse cx="140" cy="122" rx="7" ry="5" fill="#f1ce87" fill-opacity="0.9"/></g>
<g filter="url(#bl3)"><rect x="107.8" y="73.5" width="4.9" height="4.9" fill="#eddcaa" fill-opacity="0.6"/><rect x="107.8" y="78.4" width="4.9" height="4.9" fill="#eddcaa" fill-opacity="0.6"/><rect x="107.8" y="88.2" width="4.9" height="4.9" fill="#eddcaa" fill-opacity="0.6"/><rect x="112.7" y="68.6" width="4.9" height="4.9" fill="#eddcaa" fill-opacity="0.6"/><rect x="112.7" y="73.5" width="4.9" height="4.9" fill="#eddcaa" fill-opacity="0.6"/><rect x="112.7" y="88.2" width="4.9" height="4.9" fill="#eddcaa" fill-opacity="0.6"/><rect x="117.6" y="73.5" width="4.9" height="4.9" fill="#eddcaa" fill-opacity="0.6"/><rect x="117.6" y="78.4" width="4.9" height="4.9" fill="#eddcaa" fill-opacity="0.6"/><rect x="122.5" y="68.6" width="4.9" height="4.9" fill="#eddcaa" fill-opacity="0.6"/><rect x="122.5" y="78.4" width="4.9" height="4.9" fill="#eddcaa" fill-opacity="0.6"/><rect x="122.5" y="83.3" width="4.9" height="4.9" fill="#eddcaa" fill-opacity="0.6"/><rect x="127.4" y="68.6" width="4.9" height="4.9" fill="#eddcaa" fill-opacity="0.6"/><rect x="93.1" y="102.9" width="4.9" height="4.9" fill="#ebdcaf" fill-opacity="0.6"/><rect x="93.1" y="107.8" width="4.9" height="4.9" fill="#ebdcaf" fill-opacity="0.6"/><rect x="98.0" y="93.1" width="4.9" height="4.9" fill="#ebdcaf" fill-opacity="0.6"/><rect x="98.0" y="98.0" width="4.9" height="4.9" fill="#ebdcaf" fill-opacity="0.6"/><rect x="98.0" y="107.8" width="4.9" height="4.9" fill="#ebdcaf" fill-opacity="0.6"/><rect x="127.4" y="98.0" width="4.9" height="4.9" fill="#eed79c" fill-opacity="0.65"/><rect x="127.4" y="102.9" width="4.9" height="4.9" fill="#eed79c" fill-opacity="0.65"/><rect x="127.4" y="112.7" width="4.9" height="4.9" fill="#eed79c" fill-opacity="0.65"/><rect x="132.3" y="102.9" width="4.9" height="4.9" fill="#eed79c" fill-opacity="0.65"/><rect x="132.3" y="122.5" width="4.9" height="4.9" fill="#eed79c" fill-opacity="0.65"/><rect x="137.2" y="112.7" width="4.9" height="4.9" fill="#eed79c" fill-opacity="0.65"/><rect x="137.2" y="117.6" width="4.9" height="4.9" fill="#eed79c" fill-opacity="0.65"/><rect x="137.2" y="122.5" width="4.9" height="4.9" fill="#eed79c" fill-opacity="0.65"/><rect x="137.2" y="127.4" width="4.9" height="4.9" fill="#eed79c" fill-opacity="0.65"/><rect x="142.1" y="102.9" width="4.9" height="4.9" fill="#eed79c" fill-opacity="0.65"/><rect x="142.1" y="112.7" width="4.9" height="4.9" fill="#eed79c" fill-opacity="0.65"/><rect x="142.1" y="127.4" width="4.9" height="4.9" fill="#eed79c" fill-opacity="0.65"/><rect x="102.9" y="117.6" width="4.9" height="4.9" fill="#e6ddb8" fill-opacity="0.6"/><rect x="102.9" y="127.4" width="4.9" height="4.9" fill="#e6ddb8" fill-opacity="0.6"/><rect x="102.9" y="137.2" width="4.9" height="4.9" fill="#e6ddb8" fill-opacity="0.6"/><rect x="107.8" y="117.6" width="4.9" height="4.9" fill="#e6ddb8" fill-opacity="0.6"/><rect x="107.8" y="132.3" width="4.9" height="4.9" fill="#e6ddb8" fill-opacity="0.6"/><rect x="107.8" y="137.2" width="4.9" height="4.9" fill="#e6ddb8" fill-opacity="0.6"/><rect x="112.7" y="117.6" width="4.9" height="4.9" fill="#e6ddb8" fill-opacity="0.6"/><rect x="112.7" y="132.3" width="4.9" height="4.9" fill="#e6ddb8" fill-opacity="0.6"/><rect x="112.7" y="137.2" width="4.9" height="4.9" fill="#e6ddb8" fill-opacity="0.6"/><rect x="117.6" y="117.6" width="4.9" height="4.9" fill="#e6ddb8" fill-opacity="0.6"/><rect x="117.6" y="127.4" width="4.9" height="4.9" fill="#e6ddb8" fill-opacity="0.6"/><rect x="117.6" y="132.3" width="4.9" height="4.9" fill="#e6ddb8" fill-opacity="0.6"/><rect x="117.6" y="137.2" width="4.9" height="4.9" fill="#e6ddb8" fill-opacity="0.6"/><rect x="122.5" y="137.2" width="4.9" height="4.9" fill="#e6ddb8" fill-opacity="0.6"/><rect x="127.4" y="117.6" width="4.9" height="4.9" fill="#e6ddb8" fill-opacity="0.6"/><rect x="127.4" y="127.4" width="4.9" height="4.9" fill="#e6ddb8" fill-opacity="0.6"/><rect x="147.0" y="102.9" width="4.9" height="4.9" fill="#e1e6d2" fill-opacity="0.8"/><rect x="156.8" y="112.7" width="4.9" height="4.9" fill="#e1e6d2" fill-opacity="0.8"/><rect x="161.7" y="107.8" width="4.9" height="4.9" fill="#e1e6d2" fill-opacity="0.8"/><rect x="161.7" y="112.7" width="4.9" height="4.9" fill="#e1e6d2" fill-opacity="0.8"/><rect x="0.0" y="63.7" width="4.9" height="4.9" fill="#bde1ee" fill-opacity="0.7"/><rect x="4.9" y="49.0" width="4.9" height="4.9" fill="#bde1ee" fill-opacity="0.7"/><rect x="9.8" y="39.2" width="4.9" height="4.9" fill="#bde1ee" fill-opacity="0.7"/><rect x="9.8" y="44.1" width="4.9" height="4.9" fill="#bde1ee" fill-opacity="0.7"/><rect x="9.8" y="49.0" width="4.9" height="4.9" fill="#bde1ee" fill-opacity="0.7"/><rect x="9.8" y="53.9" width="4.9" height="4.9" fill="#bde1ee" fill-opacity="0.7"/><rect x="9.8" y="58.8" width="4.9" height="4.9" fill="#bde1ee" fill-opacity="0.7"/><rect x="9.8" y="73.5" width="4.9" height="4.9" fill="#bde1ee" fill-opacity="0.7"/><rect x="9.8" y="93.1" width="4.9" height="4.9" fill="#bde1ee" fill-opacity="0.7"/><rect x="14.7" y="88.2" width="4.9" height="4.9" fill="#bde1ee" fill-opacity="0.7"/><rect x="19.6" y="93.1" width="4.9" height="4.9" fill="#bde1ee" fill-opacity="0.7"/><rect x="24.5" y="44.1" width="4.9" height="4.9" fill="#bde1ee" fill-opacity="0.7"/><rect x="24.5" y="73.5" width="4.9" height="4.9" fill="#bde1ee" fill-opacity="0.7"/><rect x="29.4" y="58.8" width="4.9" height="4.9" fill="#bde1ee" fill-opacity="0.7"/><rect x="29.4" y="63.7" width="4.9" height="4.9" fill="#bde1ee" fill-opacity="0.7"/><rect x="29.4" y="73.5" width="4.9" height="4.9" fill="#bde1ee" fill-opacity="0.7"/><rect x="29.4" y="78.4" width="4.9" height="4.9" fill="#bde1ee" fill-opacity="0.7"/><rect x="29.4" y="83.3" width="4.9" height="4.9" fill="#bde1ee" fill-opacity="0.7"/><rect x="34.3" y="68.6" width="4.9" height="4.9" fill="#bde1ee" fill-opacity="0.7"/><rect x="34.3" y="83.3" width="4.9" height="4.9" fill="#bde1ee" fill-opacity="0.7"/><rect x="39.2" y="68.6" width="4.9" height="4.9" fill="#bde1ee" fill-opacity="0.7"/><rect x="39.2" y="78.4" width="4.9" height="4.9" fill="#bde1ee" fill-opacity="0.7"/><rect x="49.0" y="58.8" width="4.9" height="4.9" fill="#bde1ee" fill-opacity="0.7"/><rect x="49.0" y="73.5" width="4.9" height="4.9" fill="#bde1ee" fill-opacity="0.7"/><rect x="49.0" y="78.4" width="4.9" height="4.9" fill="#bde1ee" fill-opacity="0.7"/><rect x="49.0" y="93.1" width="4.9" height="4.9" fill="#bde1ee" fill-opacity="0.7"/><rect x="53.9" y="68.6" width="4.9" height="4.9" fill="#bde1ee" fill-opacity="0.7"/><rect x="53.9" y="83.3" width="4.9" height="4.9" fill="#bde1ee" fill-opacity="0.7"/><rect x="53.9" y="88.2" width="4.9" height="4.9" fill="#bde1ee" fill-opacity="0.7"/><rect x="58.8" y="49.0" width="4.9" height="4.9" fill="#bde1ee" fill-opacity="0.7"/><rect x="58.8" y="63.7" width="4.9" height="4.9" fill="#bde1ee" fill-opacity="0.7"/><rect x="58.8" y="83.3" width="4.9" height="4.9" fill="#bde1ee" fill-opacity="0.7"/><rect x="58.8" y="88.2" width="4.9" height="4.9" fill="#bde1ee" fill-opacity="0.7"/><rect x="63.7" y="58.8" width="4.9" height="4.9" fill="#bde1ee" fill-opacity="0.7"/><rect x="63.7" y="73.5" width="4.9" height="4.9" fill="#bde1ee" fill-opacity="0.7"/><rect x="68.6" y="44.1" width="4.9" height="4.9" fill="#bde1ee" fill-opacity="0.7"/><rect x="68.6" y="49.0" width="4.9" height="4.9" fill="#bde1ee" fill-opacity="0.7"/><rect x="68.6" y="73.5" width="4.9" height="4.9" fill="#bde1ee" fill-opacity="0.7"/><rect x="68.6" y="83.3" width="4.9" height="4.9" fill="#bde1ee" fill-opacity="0.7"/><rect x="68.6" y="93.1" width="4.9" height="4.9" fill="#bde1ee" fill-opacity="0.7"/><rect x="73.5" y="44.1" width="4.9" height="4.9" fill="#bde1ee" fill-opacity="0.7"/><rect x="73.5" y="49.0" width="4.9" height="4.9" fill="#bde1ee" fill-opacity="0.7"/><rect x="73.5" y="63.7" width="4.9" height="4.9" fill="#bde1ee" fill-opacity="0.7"/><rect x="73.5" y="73.5" width="4.9" height="4.9" fill="#bde1ee" fill-opacity="0.7"/><rect x="78.4" y="44.1" width="4.9" height="4.9" fill="#bde1ee" fill-opacity="0.7"/><rect x="78.4" y="49.0" width="4.9" height="4.9" fill="#bde1ee" fill-opacity="0.7"/><rect x="78.4" y="58.8" width="4.9" height="4.9" fill="#bde1ee" fill-opacity="0.7"/><rect x="83.3" y="39.2" width="4.9" height="4.9" fill="#bde1ee" fill-opacity="0.7"/><rect x="83.3" y="44.1" width="4.9" height="4.9" fill="#bde1ee" fill-opacity="0.7"/><rect x="83.3" y="53.9" width="4.9" height="4.9" fill="#bde1ee" fill-opacity="0.7"/><rect x="83.3" y="58.8" width="4.9" height="4.9" fill="#bde1ee" fill-opacity="0.7"/><rect x="83.3" y="78.4" width="4.9" height="4.9" fill="#bde1ee" fill-opacity="0.7"/><rect x="83.3" y="88.2" width="4.9" height="4.9" fill="#bde1ee" fill-opacity="0.7"/><rect x="93.1" y="78.4" width="4.9" height="4.9" fill="#c0e0ec" fill-opacity="0.7"/><rect x="93.1" y="98.0" width="4.9" height="4.9" fill="#c0e0ec" fill-opacity="0.7"/><rect x="98.0" y="98.0" width="4.9" height="4.9" fill="#c0e0ec" fill-opacity="0.7"/><rect x="102.9" y="58.8" width="4.9" height="4.9" fill="#c0e0ec" fill-opacity="0.7"/><rect x="107.8" y="78.4" width="4.9" height="4.9" fill="#c0e0ec" fill-opacity="0.7"/><rect x="107.8" y="98.0" width="4.9" height="4.9" fill="#c0e0ec" fill-opacity="0.7"/><rect x="107.8" y="102.9" width="4.9" height="4.9" fill="#c0e0ec" fill-opacity="0.7"/><rect x="112.7" y="88.2" width="4.9" height="4.9" fill="#c0e0ec" fill-opacity="0.7"/><rect x="112.7" y="98.0" width="4.9" height="4.9" fill="#c0e0ec" fill-opacity="0.7"/><rect x="122.5" y="88.2" width="4.9" height="4.9" fill="#c0e0ec" fill-opacity="0.7"/><rect x="122.5" y="102.9" width="4.9" height="4.9" fill="#c0e0ec" fill-opacity="0.7"/><rect x="127.4" y="63.7" width="4.9" height="4.9" fill="#c0e0ec" fill-opacity="0.7"/><rect x="127.4" y="88.2" width="4.9" height="4.9" fill="#c0e0ec" fill-opacity="0.7"/><rect x="127.4" y="102.9" width="4.9" height="4.9" fill="#c0e0ec" fill-opacity="0.7"/><rect x="132.3" y="53.9" width="4.9" height="4.9" fill="#c0e0ec" fill-opacity="0.7"/><rect x="132.3" y="58.8" width="4.9" height="4.9" fill="#c0e0ec" fill-opacity="0.7"/><rect x="137.2" y="58.8" width="4.9" height="4.9" fill="#c0e0ec" fill-opacity="0.7"/><rect x="137.2" y="93.1" width="4.9" height="4.9" fill="#c0e0ec" fill-opacity="0.7"/><rect x="137.2" y="102.9" width="4.9" height="4.9" fill="#c0e0ec" fill-opacity="0.7"/><rect x="142.1" y="102.9" width="4.9" height="4.9" fill="#c0e0ec" fill-opacity="0.7"/><rect x="147.0" y="58.8" width="4.9" height="4.9" fill="#c0e0ec" fill-opacity="0.7"/><rect x="151.9" y="78.4" width="4.9" height="4.9" fill="#c0e0ec" fill-opacity="0.7"/><rect x="151.9" y="93.1" width="4.9" height="4.9" fill="#c0e0ec" fill-opacity="0.7"/><rect x="151.9" y="102.9" width="4.9" height="4.9" fill="#c0e0ec" fill-opacity="0.7"/><rect x="156.8" y="83.3" width="4.9" height="4.9" fill="#c0e0ec" fill-opacity="0.7"/><rect x="156.8" y="93.1" width="4.9" height="4.9" fill="#c0e0ec" fill-opacity="0.7"/><rect x="161.7" y="58.8" width="4.9" height="4.9" fill="#c0e0ec" fill-opacity="0.7"/><rect x="166.6" y="53.9" width="4.9" height="4.9" fill="#c0e0ec" fill-opacity="0.7"/><rect x="166.6" y="83.3" width="4.9" height="4.9" fill="#c0e0ec" fill-opacity="0.7"/><rect x="171.5" y="73.5" width="4.9" height="4.9" fill="#c0e0ec" fill-opacity="0.7"/></g>
<g filter="url(#bl2)"><rect x="51" y="90.5" width="10.5" height="3.5" fill="#d4ecec" fill-opacity="1"/><rect x="42.7" y="71.3" width="21.2" height="19" fill="#efe2bb" fill-opacity="0.85"/><rect x="42.7" y="71.3" width="3.6" height="19.5" fill="#f3bb62" fill-opacity="0.9"/><rect x="46" y="77.5" width="18" height="3" fill="#f4c470" fill-opacity="0.85"/><rect x="46" y="86.8" width="18" height="3.2" fill="#f3bb62" fill-opacity="0.85"/><rect x="120" y="83.3" width="6" height="2.2" fill="#f2bb62" fill-opacity="0.9"/><rect x="134.6" y="120.6" width="12.7" height="4.8" fill="#f2c878" fill-opacity="0.9"/><rect x="144" y="112.7" width="3" height="6" fill="#8ac0e2" fill-opacity="0.9"/></g>
<g clip-path="url(#nw)"><rect x="0" y="0" width="180" height="145" fill="url(#tex)"/></g>
<g clip-path="url(#se)"><rect x="0" y="0" width="180" height="145" fill="url(#tex2)"/>
<use href="#jn"/></g>
<rect x="0" y="0" width="180" height="145" filter="url(#nz)" opacity="0.55"/>
<g filter="url(#bl3)"><ellipse cx="131.8" cy="60.5" rx="2.6" ry="5.6" fill="#f9b93c" fill-opacity="1"/><ellipse cx="132.2" cy="60" rx="1.8" ry="4" fill="#f37011" fill-opacity="1"/><ellipse cx="152.3" cy="58.8" rx="1.8" ry="3.3" fill="#f8b53f" fill-opacity="1"/><ellipse cx="152.4" cy="58.5" rx="1.2" ry="2.4" fill="#e83b03" fill-opacity="1"/></g>
<path d="M40.1,19.7 L50,27.5 L61.2,36.6 M26.6,56 L34.4,60.8 L37.3,65.7 L39.2,70.5 L41.2,75.4 L42.1,80.2 L44,86 L46,91.8 M51.7,36.5 Q56,30 59,28 Q63,26.5 65.5,28.5 L68.5,27.5 M57,31 Q61,34 64.5,32.5 L66,35" stroke="#44525c" stroke-width="0.6" stroke-opacity="0.5" fill="none"/>
</g>
<text x="88.9" y="25.7" text-anchor="middle" font-family="Liberation Sans, Arial, sans-serif" font-size="11.8" fill="#000" stroke="#000" stroke-width="0.25">IC</text>
<rect x="115.1" y="15.4" width="54" height="14" fill="url(#cb)"/>
<text x="114.40" y="41.1" text-anchor="middle" font-family="Liberation Sans, Arial, sans-serif" font-size="9.4" fill="#000" stroke="#000" stroke-width="0.32" transform="translate(114.40,0) scale(0.83,1) translate(-114.40,0)">0.0</text>
<text x="127.70" y="41.1" text-anchor="middle" font-family="Liberation Sans, Arial, sans-serif" font-size="9.4" fill="#000" stroke="#000" stroke-width="0.32" transform="translate(127.70,0) scale(0.83,1) translate(-127.70,0)">0.1</text>
<text x="141.00" y="41.1" text-anchor="middle" font-family="Liberation Sans, Arial, sans-serif" font-size="9.4" fill="#000" stroke="#000" stroke-width="0.32" transform="translate(141.00,0) scale(0.83,1) translate(-141.00,0)">0.2</text>
<text x="154.30" y="41.1" text-anchor="middle" font-family="Liberation Sans, Arial, sans-serif" font-size="9.4" fill="#000" stroke="#000" stroke-width="0.32" transform="translate(154.30,0) scale(0.83,1) translate(-154.30,0)">0.3</text>
<text x="167.60" y="41.1" text-anchor="middle" font-family="Liberation Sans, Arial, sans-serif" font-size="9.4" fill="#000" stroke="#000" stroke-width="0.32" transform="translate(167.60,0) scale(0.83,1) translate(-167.60,0)">0.4</text>
</g>
<g transform="translate(199,0)">
<g clip-path="url(#m)">
<rect x="0" y="0" width="180" height="145" fill="#bae0ec"/>
<g filter="url(#bl)"><ellipse cx="15" cy="80" rx="18" ry="20" fill="#a0d3e9" fill-opacity="0.7"/><ellipse cx="66" cy="55" rx="22" ry="14" fill="#d4e9ee" fill-opacity="0.8"/><ellipse cx="78" cy="81" rx="14" ry="8" fill="#e1ebde" fill-opacity="0.9"/><ellipse cx="105" cy="95" rx="13" ry="10" fill="#f0d391" fill-opacity="0.9"/><ellipse cx="100" cy="108" rx="9" ry="12" fill="#f2c87a" fill-opacity="0.9"/><ellipse cx="118" cy="125" rx="12" ry="16" fill="#f1cf89" fill-opacity="0.9"/><ellipse cx="138" cy="110" rx="8" ry="12" fill="#ecd9a8" fill-opacity="0.7"/><ellipse cx="160" cy="90" rx="10" ry="18" fill="#c9e3ec" fill-opacity="0.5"/></g>
<g filter="url(#bl3)"><rect x="93.1" y="78.4" width="4.9" height="4.9" fill="#ecdcad" fill-opacity="0.8"/><rect x="93.1" y="93.1" width="4.9" height="4.9" fill="#ecdcad" fill-opacity="0.8"/><rect x="98.0" y="88.2" width="4.9" height="4.9" fill="#ecdcad" fill-opacity="0.8"/><rect x="107.8" y="73.5" width="4.9" height="4.9" fill="#ecdcad" fill-opacity="0.8"/><rect x="107.8" y="78.4" width="4.9" height="4.9" fill="#ecdcad" fill-opacity="0.8"/><rect x="107.8" y="88.2" width="4.9" height="4.9" fill="#ecdcad" fill-opacity="0.8"/><rect x="107.8" y="93.1" width="4.9" height="4.9" fill="#ecdcad" fill-opacity="0.8"/><rect x="112.7" y="93.1" width="4.9" height="4.9" fill="#ecdcad" fill-opacity="0.8"/><rect x="117.6" y="73.5" width="4.9" height="4.9" fill="#ecdcad" fill-opacity="0.8"/><rect x="117.6" y="78.4" width="4.9" height="4.9" fill="#ecdcad" fill-opacity="0.8"/><rect x="117.6" y="88.2" width="4.9" height="4.9" fill="#ecdcad" fill-opacity="0.8"/><rect x="122.5" y="78.4" width="4.9" height="4.9" fill="#ecdcad" fill-opacity="0.8"/><rect x="122.5" y="83.3" width="4.9" height="4.9" fill="#ecdcad" fill-opacity="0.8"/><rect x="122.5" y="93.1" width="4.9" height="4.9" fill="#ecdcad" fill-opacity="0.8"/><rect x="127.4" y="83.3" width="4.9" height="4.9" fill="#ecdcad" fill-opacity="0.8"/><rect x="127.4" y="88.2" width="4.9" height="4.9" fill="#ecdcad" fill-opacity="0.8"/><rect x="132.3" y="78.4" width="4.9" height="4.9" fill="#ecdcad" fill-opacity="0.8"/><rect x="132.3" y="83.3" width="4.9" height="4.9" fill="#ecdcad" fill-opacity="0.8"/><rect x="132.3" y="88.2" width="4.9" height="4.9" fill="#ecdcad" fill-opacity="0.8"/><rect x="132.3" y="93.1" width="4.9" height="4.9" fill="#ecdcad" fill-opacity="0.8"/><rect x="137.2" y="83.3" width="4.9" height="4.9" fill="#ecdcad" fill-opacity="0.8"/><rect x="137.2" y="88.2" width="4.9" height="4.9" fill="#ecdcad" fill-opacity="0.8"/><rect x="142.1" y="73.5" width="4.9" height="4.9" fill="#ecdcad" fill-opacity="0.8"/><rect x="142.1" y="78.4" width="4.9" height="4.9" fill="#ecdcad" fill-opacity="0.8"/><rect x="142.1" y="93.1" width="4.9" height="4.9" fill="#ecdcad" fill-opacity="0.8"/><rect x="147.0" y="73.5" width="4.9" height="4.9" fill="#ecdcad" fill-opacity="0.8"/><rect x="147.0" y="83.3" width="4.9" height="4.9" fill="#ecdcad" fill-opacity="0.8"/><rect x="147.0" y="93.1" width="4.9" height="4.9" fill="#ecdcad" fill-opacity="0.8"/><rect x="93.1" y="63.7" width="4.9" height="4.9" fill="#e2e6d2" fill-opacity="0.7"/><rect x="98.0" y="58.8" width="4.9" height="4.9" fill="#e2e6d2" fill-opacity="0.7"/><rect x="98.0" y="63.7" width="4.9" height="4.9" fill="#e2e6d2" fill-opacity="0.7"/><rect x="107.8" y="58.8" width="4.9" height="4.9" fill="#e2e6d2" fill-opacity="0.7"/><rect x="107.8" y="68.6" width="4.9" height="4.9" fill="#e2e6d2" fill-opacity="0.7"/><rect x="112.7" y="53.9" width="4.9" height="4.9" fill="#e2e6d2" fill-opacity="0.7"/><rect x="117.6" y="63.7" width="4.9" height="4.9" fill="#e2e6d2" fill-opacity="0.7"/><rect x="122.5" y="58.8" width="4.9" height="4.9" fill="#e2e6d2" fill-opacity="0.7"/><rect x="127.4" y="68.6" width="4.9" height="4.9" fill="#e2e6d2" fill-opacity="0.7"/><rect x="137.2" y="63.7" width="4.9" height="4.9" fill="#e2e6d2" fill-opacity="0.7"/><rect x="147.0" y="58.8" width="4.9" height="4.9" fill="#e2e6d2" fill-opacity="0.7"/><rect x="147.0" y="63.7" width="4.9" height="4.9" fill="#e2e6d2" fill-opacity="0.7"/><rect x="93.1" y="88.2" width="4.9" height="4.9" fill="#f3d28b" fill-opacity="0.85"/><rect x="93.1" y="93.1" width="4.9" height="4.9" fill="#f3d28b" fill-opacity="0.85"/><rect x="93.1" y="102.9" width="4.9" height="4.9" fill="#f3d28b" fill-opacity="0.85"/><rect x="93.1" y="117.6" width="4.9" height="4.9" fill="#f3d28b" fill-opacity="0.85"/><rect x="93.1" y="122.5" width="4.9" height="4.9" fill="#f3d28b" fill-opacity="0.85"/><rect x="93.1" y="127.4" width="4.9" height="4.9" fill="#f3d28b" fill-opacity="0.85"/><rect x="93.1" y="132.3" width="4.9" height="4.9" fill="#f3d28b" fill-opacity="0.85"/><rect x="98.0" y="83.3" width="4.9" height="4.9" fill="#f3d28b" fill-opacity="0.85"/><rect x="98.0" y="98.0" width="4.9" height="4.9" fill="#f3d28b" fill-opacity="0.85"/><rect x="98.0" y="102.9" width="4.9" height="4.9" fill="#f3d28b" fill-opacity="0.85"/><rect x="98.0" y="107.8" width="4.9" height="4.9" fill="#f3d28b" fill-opacity="0.85"/><rect x="98.0" y="112.7" width="4.9" height="4.9" fill="#f3d28b" fill-opacity="0.85"/><rect x="98.0" y="117.6" width="4.9" height="4.9" fill="#f3d28b" fill-opacity="0.85"/><rect x="98.0" y="122.5" width="4.9" height="4.9" fill="#f3d28b" fill-opacity="0.85"/><rect x="98.0" y="127.4" width="4.9" height="4.9" fill="#f3d28b" fill-opacity="0.85"/><rect x="98.0" y="132.3" width="4.9" height="4.9" fill="#f3d28b" fill-opacity="0.85"/><rect x="98.0" y="137.2" width="4.9" height="4.9" fill="#f3d28b" fill-opacity="0.85"/><rect x="102.9" y="83.3" width="4.9" height="4.9" fill="#f3d28b" fill-opacity="0.85"/><rect x="102.9" y="93.1" width="4.9" height="4.9" fill="#f3d28b" fill-opacity="0.85"/><rect x="102.9" y="98.0" width="4.9" height="4.9" fill="#f3d28b" fill-opacity="0.85"/><rect x="102.9" y="112.7" width="4.9" height="4.9" fill="#f3d28b" fill-opacity="0.85"/><rect x="102.9" y="117.6" width="4.9" height="4.9" fill="#f3d28b" fill-opacity="0.85"/><rect x="102.9" y="137.2" width="4.9" height="4.9" fill="#f3d28b" fill-opacity="0.85"/><rect x="107.8" y="83.3" width="4.9" height="4.9" fill="#f3d28b" fill-opacity="0.85"/><rect x="107.8" y="93.1" width="4.9" height="4.9" fill="#f3d28b" fill-opacity="0.85"/><rect x="107.8" y="98.0" width="4.9" height="4.9" fill="#f3d28b" fill-opacity="0.85"/><rect x="107.8" y="102.9" width="4.9" height="4.9" fill="#f3d28b" fill-opacity="0.85"/><rect x="107.8" y="122.5" width="4.9" height="4.9" fill="#f3d28b" fill-opacity="0.85"/><rect x="107.8" y="127.4" width="4.9" height="4.9" fill="#f3d28b" fill-opacity="0.85"/><rect x="112.7" y="88.2" width="4.9" height="4.9" fill="#f3d28b" fill-opacity="0.85"/><rect x="112.7" y="98.0" width="4.9" height="4.9" fill="#f3d28b" fill-opacity="0.85"/><rect x="112.7" y="107.8" width="4.9" height="4.9" fill="#f3d28b" fill-opacity="0.85"/><rect x="112.7" y="117.6" width="4.9" height="4.9" fill="#f3d28b" fill-opacity="0.85"/><rect x="112.7" y="122.5" width="4.9" height="4.9" fill="#f3d28b" fill-opacity="0.85"/><rect x="112.7" y="127.4" width="4.9" height="4.9" fill="#f3d28b" fill-opacity="0.85"/><rect x="112.7" y="132.3" width="4.9" height="4.9" fill="#f3d28b" fill-opacity="0.85"/><rect x="117.6" y="83.3" width="4.9" height="4.9" fill="#f3d28b" fill-opacity="0.85"/><rect x="117.6" y="93.1" width="4.9" height="4.9" fill="#f3d28b" fill-opacity="0.85"/><rect x="117.6" y="112.7" width="4.9" height="4.9" fill="#f3d28b" fill-opacity="0.85"/><rect x="117.6" y="132.3" width="4.9" height="4.9" fill="#f3d28b" fill-opacity="0.85"/><rect x="117.6" y="137.2" width="4.9" height="4.9" fill="#f3d28b" fill-opacity="0.85"/><rect x="122.5" y="83.3" width="4.9" height="4.9" fill="#f3d28b" fill-opacity="0.85"/><rect x="122.5" y="93.1" width="4.9" height="4.9" fill="#f3d28b" fill-opacity="0.85"/><rect x="122.5" y="102.9" width="4.9" height="4.9" fill="#f3d28b" fill-opacity="0.85"/><rect x="122.5" y="107.8" width="4.9" height="4.9" fill="#f3d28b" fill-opacity="0.85"/><rect x="122.5" y="112.7" width="4.9" height="4.9" fill="#f3d28b" fill-opacity="0.85"/><rect x="122.5" y="132.3" width="4.9" height="4.9" fill="#f3d28b" fill-opacity="0.85"/><rect x="127.4" y="83.3" width="4.9" height="4.9" fill="#f3d28b" fill-opacity="0.85"/><rect x="127.4" y="88.2" width="4.9" height="4.9" fill="#f3d28b" fill-opacity="0.85"/><rect x="127.4" y="107.8" width="4.9" height="4.9" fill="#f3d28b" fill-opacity="0.85"/><rect x="127.4" y="112.7" width="4.9" height="4.9" fill="#f3d28b" fill-opacity="0.85"/><rect x="127.4" y="117.6" width="4.9" height="4.9" fill="#f3d28b" fill-opacity="0.85"/><rect x="127.4" y="122.5" width="4.9" height="4.9" fill="#f3d28b" fill-opacity="0.85"/><rect x="127.4" y="127.4" width="4.9" height="4.9" fill="#f3d28b" fill-opacity="0.85"/><rect x="127.4" y="132.3" width="4.9" height="4.9" fill="#f3d28b" fill-opacity="0.85"/><rect x="127.4" y="137.2" width="4.9" height="4.9" fill="#f3d28b" fill-opacity="0.85"/><rect x="127.4" y="102.9" width="4.9" height="4.9" fill="#ecd9aa" fill-opacity="0.85"/><rect x="127.4" y="107.8" width="4.9" height="4.9" fill="#ecd9aa" fill-opacity="0.85"/><rect x="127.4" y="117.6" width="4.9" height="4.9" fill="#ecd9aa" fill-opacity="0.85"/><rect x="127.4" y="122.5" width="4.9" height="4.9" fill="#ecd9aa" fill-opacity="0.85"/><rect x="132.3" y="93.1" width="4.9" height="4.9" fill="#ecd9aa" fill-opacity="0.85"/><rect x="132.3" y="107.8" width="4.9" height="4.9" fill="#ecd9aa" fill-opacity="0.85"/><rect x="132.3" y="117.6" width="4.9" height="4.9" fill="#ecd9aa" fill-opacity="0.85"/><rect x="137.2" y="107.8" width="4.9" height="4.9" fill="#ecd9aa" fill-opacity="0.85"/><rect x="142.1" y="98.0" width="4.9" height="4.9" fill="#ecd9aa" fill-opacity="0.85"/><rect x="142.1" y="102.9" width="4.9" height="4.9" fill="#ecd9aa" fill-opacity="0.85"/><rect x="142.1" y="117.6" width="4.9" height="4.9" fill="#ecd9aa" fill-opacity="0.85"/><rect x="147.0" y="102.9" width="4.9" height="4.9" fill="#ecd9aa" fill-opacity="0.85"/><rect x="147.0" y="107.8" width="4.9" height="4.9" fill="#ecd9aa" fill-opacity="0.85"/><rect x="147.0" y="112.7" width="4.9" height="4.9" fill="#ecd9aa" fill-opacity="0.85"/><rect x="147.0" y="122.5" width="4.9" height="4.9" fill="#ecd9aa" fill-opacity="0.85"/><rect x="151.9" y="93.1" width="4.9" height="4.9" fill="#ecd9aa" fill-opacity="0.85"/><rect x="151.9" y="102.9" width="4.9" height="4.9" fill="#ecd9aa" fill-opacity="0.85"/><rect x="151.9" y="112.7" width="4.9" height="4.9" fill="#ecd9aa" fill-opacity="0.85"/><rect x="151.9" y="122.5" width="4.9" height="4.9" fill="#ecd9aa" fill-opacity="0.85"/><rect x="156.8" y="98.0" width="4.9" height="4.9" fill="#ecd9aa" fill-opacity="0.85"/><rect x="156.8" y="102.9" width="4.9" height="4.9" fill="#ecd9aa" fill-opacity="0.85"/><rect x="156.8" y="117.6" width="4.9" height="4.9" fill="#ecd9aa" fill-opacity="0.85"/><rect x="151.9" y="63.7" width="4.9" height="4.9" fill="#d8e7e1" fill-opacity="0.7"/><rect x="151.9" y="88.2" width="4.9" height="4.9" fill="#d8e7e1" fill-opacity="0.7"/><rect x="151.9" y="93.1" width="4.9" height="4.9" fill="#d8e7e1" fill-opacity="0.7"/><rect x="156.8" y="83.3" width="4.9" height="4.9" fill="#d8e7e1" fill-opacity="0.7"/><rect x="156.8" y="93.1" width="4.9" height="4.9" fill="#d8e7e1" fill-opacity="0.7"/><rect x="156.8" y="102.9" width="4.9" height="4.9" fill="#d8e7e1" fill-opacity="0.7"/><rect x="161.7" y="63.7" width="4.9" height="4.9" fill="#d8e7e1" fill-opacity="0.7"/><rect x="161.7" y="83.3" width="4.9" height="4.9" fill="#d8e7e1" fill-opacity="0.7"/><rect x="161.7" y="88.2" width="4.9" height="4.9" fill="#d8e7e1" fill-opacity="0.7"/><rect x="161.7" y="98.0" width="4.9" height="4.9" fill="#d8e7e1" fill-opacity="0.7"/><rect x="166.6" y="68.6" width="4.9" height="4.9" fill="#d8e7e1" fill-opacity="0.7"/><rect x="171.5" y="68.6" width="4.9" height="4.9" fill="#d8e7e1" fill-opacity="0.7"/><rect x="171.5" y="73.5" width="4.9" height="4.9" fill="#d8e7e1" fill-opacity="0.7"/><rect x="171.5" y="88.2" width="4.9" height="4.9" fill="#d8e7e1" fill-opacity="0.7"/><rect x="171.5" y="98.0" width="4.9" height="4.9" fill="#d8e7e1" fill-opacity="0.7"/><rect x="93.1" y="122.5" width="4.9" height="4.9" fill="#f2c071" fill-opacity="0.8"/><rect x="93.1" y="137.2" width="4.9" height="4.9" fill="#f2c071" fill-opacity="0.8"/><rect x="98.0" y="132.3" width="4.9" height="4.9" fill="#f2c071" fill-opacity="0.8"/><rect x="107.8" y="122.5" width="4.9" height="4.9" fill="#f2c071" fill-opacity="0.8"/><rect x="127.4" y="102.9" width="4.9" height="4.9" fill="#f2c071" fill-opacity="0.8"/><rect x="0.0" y="39.2" width="4.9" height="4.9" fill="#c6e4ef" fill-opacity="0.7"/><rect x="0.0" y="58.8" width="4.9" height="4.9" fill="#c6e4ef" fill-opacity="0.7"/><rect x="0.0" y="83.3" width="4.9" height="4.9" fill="#c6e4ef" fill-opacity="0.7"/><rect x="4.9" y="73.5" width="4.9" height="4.9" fill="#c6e4ef" fill-opacity="0.7"/><rect x="4.9" y="83.3" width="4.9" height="4.9" fill="#c6e4ef" fill-opacity="0.7"/><rect x="9.8" y="49.0" width="4.9" height="4.9" fill="#c6e4ef" fill-opacity="0.7"/><rect x="9.8" y="63.7" width="4.9" height="4.9" fill="#c6e4ef" fill-opacity="0.7"/><rect x="9.8" y="83.3" width="4.9" height="4.9" fill="#c6e4ef" fill-opacity="0.7"/><rect x="9.8" y="88.2" width="4.9" height="4.9" fill="#c6e4ef" fill-opacity="0.7"/><rect x="14.7" y="44.1" width="4.9" height="4.9" fill="#c6e4ef" fill-opacity="0.7"/><rect x="14.7" y="78.4" width="4.9" height="4.9" fill="#c6e4ef" fill-opacity="0.7"/><rect x="19.6" y="93.1" width="4.9" height="4.9" fill="#c6e4ef" fill-opacity="0.7"/><rect x="24.5" y="39.2" width="4.9" height="4.9" fill="#c6e4ef" fill-opacity="0.7"/><rect x="24.5" y="49.0" width="4.9" height="4.9" fill="#c6e4ef" fill-opacity="0.7"/><rect x="24.5" y="53.9" width="4.9" height="4.9" fill="#c6e4ef" fill-opacity="0.7"/><rect x="24.5" y="73.5" width="4.9" height="4.9" fill="#c6e4ef" fill-opacity="0.7"/><rect x="24.5" y="78.4" width="4.9" height="4.9" fill="#c6e4ef" fill-opacity="0.7"/><rect x="24.5" y="83.3" width="4.9" height="4.9" fill="#c6e4ef" fill-opacity="0.7"/><rect x="24.5" y="88.2" width="4.9" height="4.9" fill="#c6e4ef" fill-opacity="0.7"/><rect x="29.4" y="53.9" width="4.9" height="4.9" fill="#c6e4ef" fill-opacity="0.7"/><rect x="29.4" y="58.8" width="4.9" height="4.9" fill="#c6e4ef" fill-opacity="0.7"/><rect x="29.4" y="68.6" width="4.9" height="4.9" fill="#c6e4ef" fill-opacity="0.7"/><rect x="29.4" y="73.5" width="4.9" height="4.9" fill="#c6e4ef" fill-opacity="0.7"/><rect x="29.4" y="88.2" width="4.9" height="4.9" fill="#c6e4ef" fill-opacity="0.7"/><rect x="29.4" y="93.1" width="4.9" height="4.9" fill="#c6e4ef" fill-opacity="0.7"/><rect x="34.3" y="44.1" width="4.9" height="4.9" fill="#c6e4ef" fill-opacity="0.7"/><rect x="34.3" y="68.6" width="4.9" height="4.9" fill="#c6e4ef" fill-opacity="0.7"/><rect x="34.3" y="83.3" width="4.9" height="4.9" fill="#c6e4ef" fill-opacity="0.7"/><rect x="39.2" y="39.2" width="4.9" height="4.9" fill="#c6e4ef" fill-opacity="0.7"/><rect x="39.2" y="58.8" width="4.9" height="4.9" fill="#c6e4ef" fill-opacity="0.7"/><rect x="39.2" y="68.6" width="4.9" height="4.9" fill="#c6e4ef" fill-opacity="0.7"/><rect x="39.2" y="78.4" width="4.9" height="4.9" fill="#c6e4ef" fill-opacity="0.7"/><rect x="39.2" y="83.3" width="4.9" height="4.9" fill="#c6e4ef" fill-opacity="0.7"/><rect x="39.2" y="88.2" width="4.9" height="4.9" fill="#c6e4ef" fill-opacity="0.7"/><rect x="44.1" y="39.2" width="4.9" height="4.9" fill="#c6e4ef" fill-opacity="0.7"/><rect x="44.1" y="44.1" width="4.9" height="4.9" fill="#c6e4ef" fill-opacity="0.7"/><rect x="44.1" y="73.5" width="4.9" height="4.9" fill="#c6e4ef" fill-opacity="0.7"/><rect x="49.0" y="39.2" width="4.9" height="4.9" fill="#c6e4ef" fill-opacity="0.7"/><rect x="49.0" y="49.0" width="4.9" height="4.9" fill="#c6e4ef" fill-opacity="0.7"/><rect x="49.0" y="68.6" width="4.9" height="4.9" fill="#c6e4ef" fill-opacity="0.7"/><rect x="49.0" y="83.3" width="4.9" height="4.9" fill="#c6e4ef" fill-opacity="0.7"/><rect x="53.9" y="44.1" width="4.9" height="4.9" fill="#c6e4ef" fill-opacity="0.7"/><rect x="53.9" y="63.7" width="4.9" height="4.9" fill="#c6e4ef" fill-opacity="0.7"/><rect x="53.9" y="73.5" width="4.9" height="4.9" fill="#c6e4ef" fill-opacity="0.7"/><rect x="53.9" y="78.4" width="4.9" height="4.9" fill="#c6e4ef" fill-opacity="0.7"/><rect x="53.9" y="83.3" width="4.9" height="4.9" fill="#c6e4ef" fill-opacity="0.7"/><rect x="53.9" y="93.1" width="4.9" height="4.9" fill="#c6e4ef" fill-opacity="0.7"/><rect x="58.8" y="44.1" width="4.9" height="4.9" fill="#c6e4ef" fill-opacity="0.7"/><rect x="58.8" y="63.7" width="4.9" height="4.9" fill="#c6e4ef" fill-opacity="0.7"/><rect x="58.8" y="73.5" width="4.9" height="4.9" fill="#c6e4ef" fill-opacity="0.7"/><rect x="58.8" y="83.3" width="4.9" height="4.9" fill="#c6e4ef" fill-opacity="0.7"/><rect x="58.8" y="93.1" width="4.9" height="4.9" fill="#c6e4ef" fill-opacity="0.7"/><rect x="63.7" y="53.9" width="4.9" height="4.9" fill="#c6e4ef" fill-opacity="0.7"/><rect x="63.7" y="83.3" width="4.9" height="4.9" fill="#c6e4ef" fill-opacity="0.7"/><rect x="63.7" y="88.2" width="4.9" height="4.9" fill="#c6e4ef" fill-opacity="0.7"/><rect x="68.6" y="44.1" width="4.9" height="4.9" fill="#c6e4ef" fill-opacity="0.7"/><rect x="68.6" y="49.0" width="4.9" height="4.9" fill="#c6e4ef" fill-opacity="0.7"/><rect x="68.6" y="93.1" width="4.9" height="4.9" fill="#c6e4ef" fill-opacity="0.7"/><rect x="73.5" y="49.0" width="4.9" height="4.9" fill="#c6e4ef" fill-opacity="0.7"/><rect x="73.5" y="53.9" width="4.9" height="4.9" fill="#c6e4ef" fill-opacity="0.7"/><rect x="73.5" y="78.4" width="4.9" height="4.9" fill="#c6e4ef" fill-opacity="0.7"/><rect x="78.4" y="39.2" width="4.9" height="4.9" fill="#c6e4ef" fill-opacity="0.7"/><rect x="78.4" y="44.1" width="4.9" height="4.9" fill="#c6e4ef" fill-opacity="0.7"/><rect x="78.4" y="53.9" width="4.9" height="4.9" fill="#c6e4ef" fill-opacity="0.7"/><rect x="78.4" y="93.1" width="4.9" height="4.9" fill="#c6e4ef" fill-opacity="0.7"/><rect x="83.3" y="49.0" width="4.9" height="4.9" fill="#c6e4ef" fill-opacity="0.7"/><rect x="83.3" y="58.8" width="4.9" height="4.9" fill="#c6e4ef" fill-opacity="0.7"/><rect x="83.3" y="68.6" width="4.9" height="4.9" fill="#c6e4ef" fill-opacity="0.7"/><rect x="83.3" y="78.4" width="4.9" height="4.9" fill="#c6e4ef" fill-opacity="0.7"/></g>
<g filter="url(#bl2)"><rect x="51" y="90.5" width="10.5" height="3.5" fill="#f0dca2" fill-opacity="1"/><rect x="42" y="70.9" width="23" height="21" fill="#f4ce81" fill-opacity="0.95"/><rect x="42" y="78" width="23" height="3.4" fill="#f2b760" fill-opacity="0.95"/><rect x="42" y="86.7" width="23" height="3.5" fill="#f2b760" fill-opacity="0.95"/><rect x="42" y="70.9" width="3" height="21" fill="#f2b760" fill-opacity="0.9"/><rect x="35" y="90" width="8" height="7" fill="#eeddb1" fill-opacity="0.7"/><rect x="144" y="112.7" width="3" height="5" fill="#9bcae4" fill-opacity="0.9"/><rect x="110" y="134" width="4" height="2.5" fill="#9bcae4" fill-opacity="0.9"/></g>
<g clip-path="url(#nw)"><rect x="0" y="0" width="180" height="145" fill="url(#tex)"/></g>
<g clip-path="url(#se)"><rect x="0" y="0" width="180" height="145" fill="url(#tex2)"/>
<use href="#jn"/></g>
<rect x="0" y="0" width="180" height="145" filter="url(#nz)" opacity="0.55"/>
<g filter="url(#bl3)"><ellipse cx="131.8" cy="60.5" rx="2.6" ry="5.6" fill="#f9b93c" fill-opacity="1"/><ellipse cx="132.2" cy="60" rx="1.8" ry="4" fill="#f37011" fill-opacity="1"/><ellipse cx="152.3" cy="58.8" rx="1.8" ry="3.3" fill="#f8b53f" fill-opacity="1"/><ellipse cx="152.4" cy="58.5" rx="1.2" ry="2.4" fill="#e83b03" fill-opacity="1"/></g>
<path d="M40.1,19.7 L50,27.5 L61.2,36.6 M26.6,56 L34.4,60.8 L37.3,65.7 L39.2,70.5 L41.2,75.4 L42.1,80.2 L44,86 L46,91.8 M51.7,36.5 Q56,30 59,28 Q63,26.5 65.5,28.5 L68.5,27.5 M57,31 Q61,34 64.5,32.5 L66,35" stroke="#44525c" stroke-width="0.6" stroke-opacity="0.5" fill="none"/>
</g>
<text x="88.9" y="25.7" text-anchor="middle" font-family="Liberation Sans, Arial, sans-serif" font-size="11.8" fill="#000" stroke="#000" stroke-width="0.25">Soil</text>
<rect x="115.1" y="15.4" width="54" height="14" fill="url(#cb)"/>
<text x="114.40" y="41.1" text-anchor="middle" font-family="Liberation Sans, Arial, sans-serif" font-size="9.4" fill="#000" stroke="#000" stroke-width="0.32" transform="translate(114.40,0) scale(0.83,1) translate(-114.40,0)">0.0</text>
<text x="127.70" y="41.1" text-anchor="middle" font-family="Liberation Sans, Arial, sans-serif" font-size="9.4" fill="#000" stroke="#000" stroke-width="0.32" transform="translate(127.70,0) scale(0.83,1) translate(-127.70,0)">0.1</text>
<text x="141.00" y="41.1" text-anchor="middle" font-family="Liberation Sans, Arial, sans-serif" font-size="9.4" fill="#000" stroke="#000" stroke-width="0.32" transform="translate(141.00,0) scale(0.83,1) translate(-141.00,0)">0.2</text>
<text x="154.30" y="41.1" text-anchor="middle" font-family="Liberation Sans, Arial, sans-serif" font-size="9.4" fill="#000" stroke="#000" stroke-width="0.32" transform="translate(154.30,0) scale(0.83,1) translate(-154.30,0)">0.3</text>
<text x="167.60" y="41.1" text-anchor="middle" font-family="Liberation Sans, Arial, sans-serif" font-size="9.4" fill="#000" stroke="#000" stroke-width="0.32" transform="translate(167.60,0) scale(0.83,1) translate(-167.60,0)">0.4</text>
</g>
<g transform="translate(398,0)">
<g clip-path="url(#m)">
<rect x="0" y="0" width="180" height="145" fill="#f5dea1"/>
<g filter="url(#bl2)"><polygon points="88,62 103,58 103,60 135,60 135,75 150,70 152,100 135,150 88,150" fill="#f3b767" fill-opacity="1"/><polygon points="103,52 135,52 135,61 103,61" fill="#f5ce88" fill-opacity="1"/><polygon points="150,50 180,50 180,120 151,120" fill="#f2dfb0" fill-opacity="1"/></g>
<g filter="url(#bl)"><ellipse cx="100" cy="85" rx="9" ry="16" fill="#f09e4d" fill-opacity="0.85"/><ellipse cx="108" cy="108" rx="14" ry="10" fill="#f09c4a" fill-opacity="0.85"/><ellipse cx="120" cy="80" rx="9" ry="16" fill="#f5ce8d" fill-opacity="0.9"/><ellipse cx="118" cy="57" rx="12" ry="3" fill="#f5d79a" fill-opacity="0.6"/><ellipse cx="70" cy="38" rx="8" ry="6" fill="#e3e8d9" fill-opacity="0.6"/><ellipse cx="141" cy="104" rx="8" ry="16" fill="#f4c986" fill-opacity="0.9"/><ellipse cx="143" cy="84" rx="8" ry="8" fill="#f4c073" fill-opacity="0.8"/><ellipse cx="10" cy="88" rx="9" ry="9" fill="#f4bc6b" fill-opacity="0.95"/><ellipse cx="28" cy="84" rx="10" ry="8" fill="#f4ce8b" fill-opacity="0.6"/><ellipse cx="54" cy="91" rx="8" ry="2" fill="#f2b75d" fill-opacity="0.9"/><ellipse cx="90" cy="80" rx="3" ry="15" fill="#f2a956" fill-opacity="0.9"/><ellipse cx="76" cy="70" rx="9" ry="14" fill="#e1e6da" fill-opacity="0.8"/><ellipse cx="72" cy="48" rx="8" ry="6" fill="#e3e8d9" fill-opacity="0.8"/><ellipse cx="48" cy="25" rx="7" ry="5" fill="#e5e9d9" fill-opacity="0.7"/><ellipse cx="18" cy="68" rx="3" ry="8" fill="#e1e6da" fill-opacity="0.6"/></g>
<g filter="url(#bl3)"><rect x="34.3" y="14.7" width="4.9" height="4.9" fill="#dee7de" fill-opacity="0.8"/><rect x="34.3" y="24.5" width="4.9" height="4.9" fill="#dee7de" fill-opacity="0.8"/><rect x="39.2" y="24.5" width="4.9" height="4.9" fill="#dee7de" fill-opacity="0.8"/><rect x="39.2" y="29.4" width="4.9" height="4.9" fill="#dee7de" fill-opacity="0.8"/><rect x="39.2" y="39.2" width="4.9" height="4.9" fill="#dee7de" fill-opacity="0.8"/><rect x="39.2" y="49.0" width="4.9" height="4.9" fill="#dee7de" fill-opacity="0.8"/><rect x="39.2" y="78.4" width="4.9" height="4.9" fill="#dee7de" fill-opacity="0.8"/><rect x="44.1" y="19.6" width="4.9" height="4.9" fill="#dee7de" fill-opacity="0.8"/><rect x="44.1" y="39.2" width="4.9" height="4.9" fill="#dee7de" fill-opacity="0.8"/><rect x="44.1" y="93.1" width="4.9" height="4.9" fill="#dee7de" fill-opacity="0.8"/><rect x="49.0" y="24.5" width="4.9" height="4.9" fill="#dee7de" fill-opacity="0.8"/><rect x="49.0" y="44.1" width="4.9" height="4.9" fill="#dee7de" fill-opacity="0.8"/><rect x="49.0" y="68.6" width="4.9" height="4.9" fill="#dee7de" fill-opacity="0.8"/><rect x="49.0" y="88.2" width="4.9" height="4.9" fill="#dee7de" fill-opacity="0.8"/><rect x="49.0" y="93.1" width="4.9" height="4.9" fill="#dee7de" fill-opacity="0.8"/><rect x="53.9" y="34.3" width="4.9" height="4.9" fill="#dee7de" fill-opacity="0.8"/><rect x="53.9" y="53.9" width="4.9" height="4.9" fill="#dee7de" fill-opacity="0.8"/><rect x="53.9" y="58.8" width="4.9" height="4.9" fill="#dee7de" fill-opacity="0.8"/><rect x="53.9" y="68.6" width="4.9" height="4.9" fill="#dee7de" fill-opacity="0.8"/><rect x="53.9" y="88.2" width="4.9" height="4.9" fill="#dee7de" fill-opacity="0.8"/><rect x="58.8" y="39.2" width="4.9" height="4.9" fill="#dee7de" fill-opacity="0.8"/><rect x="58.8" y="44.1" width="4.9" height="4.9" fill="#dee7de" fill-opacity="0.8"/><rect x="58.8" y="68.6" width="4.9" height="4.9" fill="#dee7de" fill-opacity="0.8"/><rect x="63.7" y="24.5" width="4.9" height="4.9" fill="#dee7de" fill-opacity="0.8"/><rect x="63.7" y="63.7" width="4.9" height="4.9" fill="#dee7de" fill-opacity="0.8"/><rect x="63.7" y="68.6" width="4.9" height="4.9" fill="#dee7de" fill-opacity="0.8"/><rect x="68.6" y="14.7" width="4.9" height="4.9" fill="#dee7de" fill-opacity="0.8"/><rect x="68.6" y="63.7" width="4.9" height="4.9" fill="#dee7de" fill-opacity="0.8"/><rect x="68.6" y="68.6" width="4.9" height="4.9" fill="#dee7de" fill-opacity="0.8"/><rect x="68.6" y="83.3" width="4.9" height="4.9" fill="#dee7de" fill-opacity="0.8"/><rect x="73.5" y="24.5" width="4.9" height="4.9" fill="#dee7de" fill-opacity="0.8"/><rect x="73.5" y="34.3" width="4.9" height="4.9" fill="#dee7de" fill-opacity="0.8"/><rect x="73.5" y="49.0" width="4.9" height="4.9" fill="#dee7de" fill-opacity="0.8"/><rect x="73.5" y="53.9" width="4.9" height="4.9" fill="#dee7de" fill-opacity="0.8"/><rect x="73.5" y="73.5" width="4.9" height="4.9" fill="#dee7de" fill-opacity="0.8"/><rect x="73.5" y="83.3" width="4.9" height="4.9" fill="#dee7de" fill-opacity="0.8"/><rect x="78.4" y="44.1" width="4.9" height="4.9" fill="#dee7de" fill-opacity="0.8"/><rect x="78.4" y="53.9" width="4.9" height="4.9" fill="#dee7de" fill-opacity="0.8"/><rect x="78.4" y="68.6" width="4.9" height="4.9" fill="#dee7de" fill-opacity="0.8"/><rect x="83.3" y="53.9" width="4.9" height="4.9" fill="#dee7de" fill-opacity="0.8"/><rect x="83.3" y="83.3" width="4.9" height="4.9" fill="#dee7de" fill-opacity="0.8"/><rect x="88.2" y="29.4" width="4.9" height="4.9" fill="#dee7de" fill-opacity="0.8"/><rect x="0.0" y="44.1" width="4.9" height="4.9" fill="#f5d07f" fill-opacity="0.75"/><rect x="0.0" y="49.0" width="4.9" height="4.9" fill="#f5d07f" fill-opacity="0.75"/><rect x="0.0" y="53.9" width="4.9" height="4.9" fill="#f5d07f" fill-opacity="0.75"/><rect x="0.0" y="83.3" width="4.9" height="4.9" fill="#f5d07f" fill-opacity="0.75"/><rect x="0.0" y="93.1" width="4.9" height="4.9" fill="#f5d07f" fill-opacity="0.75"/><rect x="4.9" y="44.1" width="4.9" height="4.9" fill="#f5d07f" fill-opacity="0.75"/><rect x="4.9" y="49.0" width="4.9" height="4.9" fill="#f5d07f" fill-opacity="0.75"/><rect x="4.9" y="78.4" width="4.9" height="4.9" fill="#f5d07f" fill-opacity="0.75"/><rect x="4.9" y="88.2" width="4.9" height="4.9" fill="#f5d07f" fill-opacity="0.75"/><rect x="4.9" y="93.1" width="4.9" height="4.9" fill="#f5d07f" fill-opacity="0.75"/><rect x="9.8" y="58.8" width="4.9" height="4.9" fill="#f5d07f" fill-opacity="0.75"/><rect x="14.7" y="39.2" width="4.9" height="4.9" fill="#f5d07f" fill-opacity="0.75"/><rect x="14.7" y="53.9" width="4.9" height="4.9" fill="#f5d07f" fill-opacity="0.75"/><rect x="14.7" y="78.4" width="4.9" height="4.9" fill="#f5d07f" fill-opacity="0.75"/><rect x="14.7" y="88.2" width="4.9" height="4.9" fill="#f5d07f" fill-opacity="0.75"/><rect x="19.6" y="39.2" width="4.9" height="4.9" fill="#f5d07f" fill-opacity="0.75"/><rect x="19.6" y="49.0" width="4.9" height="4.9" fill="#f5d07f" fill-opacity="0.75"/><rect x="19.6" y="63.7" width="4.9" height="4.9" fill="#f5d07f" fill-opacity="0.75"/><rect x="19.6" y="68.6" width="4.9" height="4.9" fill="#f5d07f" fill-opacity="0.75"/><rect x="19.6" y="78.4" width="4.9" height="4.9" fill="#f5d07f" fill-opacity="0.75"/><rect x="19.6" y="88.2" width="4.9" height="4.9" fill="#f5d07f" fill-opacity="0.75"/><rect x="19.6" y="93.1" width="4.9" height="4.9" fill="#f5d07f" fill-opacity="0.75"/><rect x="24.5" y="58.8" width="4.9" height="4.9" fill="#f5d07f" fill-opacity="0.75"/><rect x="29.4" y="44.1" width="4.9" height="4.9" fill="#f5d07f" fill-opacity="0.75"/><rect x="29.4" y="73.5" width="4.9" height="4.9" fill="#f5d07f" fill-opacity="0.75"/><rect x="29.4" y="78.4" width="4.9" height="4.9" fill="#f5d07f" fill-opacity="0.75"/><rect x="29.4" y="93.1" width="4.9" height="4.9" fill="#f5d07f" fill-opacity="0.75"/><rect x="34.3" y="83.3" width="4.9" height="4.9" fill="#f5d07f" fill-opacity="0.75"/><rect x="34.3" y="88.2" width="4.9" height="4.9" fill="#f5d07f" fill-opacity="0.75"/><rect x="39.2" y="53.9" width="4.9" height="4.9" fill="#f5d07f" fill-opacity="0.75"/><rect x="39.2" y="58.8" width="4.9" height="4.9" fill="#f5d07f" fill-opacity="0.75"/><rect x="39.2" y="93.1" width="4.9" height="4.9" fill="#f5d07f" fill-opacity="0.75"/><rect x="44.1" y="58.8" width="4.9" height="4.9" fill="#f5d07f" fill-opacity="0.75"/><rect x="44.1" y="83.3" width="4.9" height="4.9" fill="#f5d07f" fill-opacity="0.75"/><rect x="49.0" y="44.1" width="4.9" height="4.9" fill="#f5d07f" fill-opacity="0.75"/><rect x="49.0" y="53.9" width="4.9" height="4.9" fill="#f5d07f" fill-opacity="0.75"/><rect x="49.0" y="63.7" width="4.9" height="4.9" fill="#f5d07f" fill-opacity="0.75"/><rect x="49.0" y="68.6" width="4.9" height="4.9" fill="#f5d07f" fill-opacity="0.75"/><rect x="49.0" y="83.3" width="4.9" height="4.9" fill="#f5d07f" fill-opacity="0.75"/><rect x="49.0" y="93.1" width="4.9" height="4.9" fill="#f5d07f" fill-opacity="0.75"/><rect x="53.9" y="39.2" width="4.9" height="4.9" fill="#f5d07f" fill-opacity="0.75"/><rect x="53.9" y="78.4" width="4.9" height="4.9" fill="#f5d07f" fill-opacity="0.75"/><rect x="53.9" y="88.2" width="4.9" height="4.9" fill="#f5d07f" fill-opacity="0.75"/><rect x="53.9" y="93.1" width="4.9" height="4.9" fill="#f5d07f" fill-opacity="0.75"/><rect x="58.8" y="53.9" width="4.9" height="4.9" fill="#f5d07f" fill-opacity="0.75"/><rect x="58.8" y="58.8" width="4.9" height="4.9" fill="#f5d07f" fill-opacity="0.75"/><rect x="58.8" y="73.5" width="4.9" height="4.9" fill="#f5d07f" fill-opacity="0.75"/><rect x="58.8" y="88.2" width="4.9" height="4.9" fill="#f5d07f" fill-opacity="0.75"/><rect x="63.7" y="58.8" width="4.9" height="4.9" fill="#f5d07f" fill-opacity="0.75"/><rect x="63.7" y="63.7" width="4.9" height="4.9" fill="#f5d07f" fill-opacity="0.75"/><rect x="63.7" y="78.4" width="4.9" height="4.9" fill="#f5d07f" fill-opacity="0.75"/><rect x="63.7" y="88.2" width="4.9" height="4.9" fill="#f5d07f" fill-opacity="0.75"/><rect x="63.7" y="93.1" width="4.9" height="4.9" fill="#f5d07f" fill-opacity="0.75"/><rect x="68.6" y="39.2" width="4.9" height="4.9" fill="#f5d07f" fill-opacity="0.75"/><rect x="68.6" y="44.1" width="4.9" height="4.9" fill="#f5d07f" fill-opacity="0.75"/><rect x="68.6" y="49.0" width="4.9" height="4.9" fill="#f5d07f" fill-opacity="0.75"/><rect x="68.6" y="58.8" width="4.9" height="4.9" fill="#f5d07f" fill-opacity="0.75"/><rect x="68.6" y="73.5" width="4.9" height="4.9" fill="#f5d07f" fill-opacity="0.75"/><rect x="68.6" y="78.4" width="4.9" height="4.9" fill="#f5d07f" fill-opacity="0.75"/><rect x="68.6" y="88.2" width="4.9" height="4.9" fill="#f5d07f" fill-opacity="0.75"/><rect x="73.5" y="68.6" width="4.9" height="4.9" fill="#f5d07f" fill-opacity="0.75"/><rect x="78.4" y="39.2" width="4.9" height="4.9" fill="#f5d07f" fill-opacity="0.75"/><rect x="78.4" y="49.0" width="4.9" height="4.9" fill="#f5d07f" fill-opacity="0.75"/><rect x="78.4" y="58.8" width="4.9" height="4.9" fill="#f5d07f" fill-opacity="0.75"/><rect x="78.4" y="73.5" width="4.9" height="4.9" fill="#f5d07f" fill-opacity="0.75"/><rect x="78.4" y="78.4" width="4.9" height="4.9" fill="#f5d07f" fill-opacity="0.75"/><rect x="78.4" y="93.1" width="4.9" height="4.9" fill="#f5d07f" fill-opacity="0.75"/><rect x="83.3" y="53.9" width="4.9" height="4.9" fill="#f5d07f" fill-opacity="0.75"/><rect x="83.3" y="58.8" width="4.9" height="4.9" fill="#f5d07f" fill-opacity="0.75"/><rect x="83.3" y="63.7" width="4.9" height="4.9" fill="#f5d07f" fill-opacity="0.75"/><rect x="83.3" y="88.2" width="4.9" height="4.9" fill="#f5d07f" fill-opacity="0.75"/><rect x="88.2" y="39.2" width="4.9" height="4.9" fill="#f5d07f" fill-opacity="0.75"/><rect x="88.2" y="58.8" width="4.9" height="4.9" fill="#f5d07f" fill-opacity="0.75"/><rect x="88.2" y="68.6" width="4.9" height="4.9" fill="#f5d07f" fill-opacity="0.75"/><rect x="88.2" y="73.5" width="4.9" height="4.9" fill="#f5d07f" fill-opacity="0.75"/><rect x="88.2" y="78.4" width="4.9" height="4.9" fill="#f5d07f" fill-opacity="0.75"/><rect x="88.2" y="83.3" width="4.9" height="4.9" fill="#f5d07f" fill-opacity="0.75"/><rect x="34.3" y="19.6" width="4.9" height="4.9" fill="#f5d07f" fill-opacity="0.7"/><rect x="34.3" y="24.5" width="4.9" height="4.9" fill="#f5d07f" fill-opacity="0.7"/><rect x="39.2" y="14.7" width="4.9" height="4.9" fill="#f5d07f" fill-opacity="0.7"/><rect x="44.1" y="24.5" width="4.9" height="4.9" fill="#f5d07f" fill-opacity="0.7"/><rect x="44.1" y="39.2" width="4.9" height="4.9" fill="#f5d07f" fill-opacity="0.7"/><rect x="49.0" y="24.5" width="4.9" height="4.9" fill="#f5d07f" fill-opacity="0.7"/><rect x="53.9" y="14.7" width="4.9" height="4.9" fill="#f5d07f" fill-opacity="0.7"/><rect x="68.6" y="29.4" width="4.9" height="4.9" fill="#f5d07f" fill-opacity="0.7"/><rect x="68.6" y="34.3" width="4.9" height="4.9" fill="#f5d07f" fill-opacity="0.7"/><rect x="68.6" y="39.2" width="4.9" height="4.9" fill="#f5d07f" fill-opacity="0.7"/><rect x="73.5" y="39.2" width="4.9" height="4.9" fill="#f5d07f" fill-opacity="0.7"/><rect x="78.4" y="24.5" width="4.9" height="4.9" fill="#f5d07f" fill-opacity="0.7"/><rect x="151.9" y="93.1" width="4.9" height="4.9" fill="#dde6df" fill-opacity="0.8"/><rect x="156.8" y="53.9" width="4.9" height="4.9" fill="#dde6df" fill-opacity="0.8"/><rect x="156.8" y="63.7" width="4.9" height="4.9" fill="#dde6df" fill-opacity="0.8"/><rect x="156.8" y="83.3" width="4.9" height="4.9" fill="#dde6df" fill-opacity="0.8"/><rect x="156.8" y="98.0" width="4.9" height="4.9" fill="#dde6df" fill-opacity="0.8"/><rect x="161.7" y="93.1" width="4.9" height="4.9" fill="#dde6df" fill-opacity="0.8"/><rect x="161.7" y="107.8" width="4.9" height="4.9" fill="#dde6df" fill-opacity="0.8"/><rect x="166.6" y="58.8" width="4.9" height="4.9" fill="#dde6df" fill-opacity="0.8"/><rect x="166.6" y="63.7" width="4.9" height="4.9" fill="#dde6df" fill-opacity="0.8"/><rect x="166.6" y="93.1" width="4.9" height="4.9" fill="#dde6df" fill-opacity="0.8"/><rect x="166.6" y="102.9" width="4.9" height="4.9" fill="#dde6df" fill-opacity="0.8"/><rect x="171.5" y="63.7" width="4.9" height="4.9" fill="#dde6df" fill-opacity="0.8"/><rect x="171.5" y="73.5" width="4.9" height="4.9" fill="#dde6df" fill-opacity="0.8"/><rect x="171.5" y="93.1" width="4.9" height="4.9" fill="#dde6df" fill-opacity="0.8"/><rect x="171.5" y="107.8" width="4.9" height="4.9" fill="#dde6df" fill-opacity="0.8"/><rect x="93.1" y="53.9" width="4.9" height="4.9" fill="#f1a351" fill-opacity="0.7"/><rect x="93.1" y="63.7" width="4.9" height="4.9" fill="#f1a351" fill-opacity="0.7"/><rect x="93.1" y="68.6" width="4.9" height="4.9" fill="#f1a351" fill-opacity="0.7"/><rect x="93.1" y="93.1" width="4.9" height="4.9" fill="#f1a351" fill-opacity="0.7"/><rect x="93.1" y="107.8" width="4.9" height="4.9" fill="#f1a351" fill-opacity="0.7"/><rect x="98.0" y="68.6" width="4.9" height="4.9" fill="#f1a351" fill-opacity="0.7"/><rect x="98.0" y="88.2" width="4.9" height="4.9" fill="#f1a351" fill-opacity="0.7"/><rect x="98.0" y="98.0" width="4.9" height="4.9" fill="#f1a351" fill-opacity="0.7"/><rect x="98.0" y="132.3" width="4.9" height="4.9" fill="#f1a351" fill-opacity="0.7"/><rect x="102.9" y="53.9" width="4.9" height="4.9" fill="#f1a351" fill-opacity="0.7"/><rect x="102.9" y="73.5" width="4.9" height="4.9" fill="#f1a351" fill-opacity="0.7"/><rect x="102.9" y="98.0" width="4.9" height="4.9" fill="#f1a351" fill-opacity="0.7"/><rect x="102.9" y="107.8" width="4.9" height="4.9" fill="#f1a351" fill-opacity="0.7"/><rect x="107.8" y="53.9" width="4.9" height="4.9" fill="#f1a351" fill-opacity="0.7"/><rect x="107.8" y="58.8" width="4.9" height="4.9" fill="#f1a351" fill-opacity="0.7"/><rect x="107.8" y="112.7" width="4.9" height="4.9" fill="#f1a351" fill-opacity="0.7"/><rect x="107.8" y="122.5" width="4.9" height="4.9" fill="#f1a351" fill-opacity="0.7"/><rect x="112.7" y="53.9" width="4.9" height="4.9" fill="#f1a351" fill-opacity="0.7"/><rect x="112.7" y="102.9" width="4.9" height="4.9" fill="#f1a351" fill-opacity="0.7"/><rect x="112.7" y="107.8" width="4.9" height="4.9" fill="#f1a351" fill-opacity="0.7"/><rect x="117.6" y="93.1" width="4.9" height="4.9" fill="#f1a351" fill-opacity="0.7"/><rect x="117.6" y="112.7" width="4.9" height="4.9" fill="#f1a351" fill-opacity="0.7"/><rect x="122.5" y="78.4" width="4.9" height="4.9" fill="#f1a351" fill-opacity="0.7"/><rect x="122.5" y="112.7" width="4.9" height="4.9" fill="#f1a351" fill-opacity="0.7"/><rect x="122.5" y="132.3" width="4.9" height="4.9" fill="#f1a351" fill-opacity="0.7"/><rect x="127.4" y="53.9" width="4.9" height="4.9" fill="#f1a351" fill-opacity="0.7"/><rect x="127.4" y="88.2" width="4.9" height="4.9" fill="#f1a351" fill-opacity="0.7"/><rect x="127.4" y="112.7" width="4.9" height="4.9" fill="#f1a351" fill-opacity="0.7"/><rect x="127.4" y="117.6" width="4.9" height="4.9" fill="#f1a351" fill-opacity="0.7"/><rect x="132.3" y="63.7" width="4.9" height="4.9" fill="#f1a351" fill-opacity="0.7"/><rect x="132.3" y="73.5" width="4.9" height="4.9" fill="#f1a351" fill-opacity="0.7"/><rect x="132.3" y="112.7" width="4.9" height="4.9" fill="#f1a351" fill-opacity="0.7"/><rect x="137.2" y="73.5" width="4.9" height="4.9" fill="#f1a351" fill-opacity="0.7"/><rect x="137.2" y="102.9" width="4.9" height="4.9" fill="#f1a351" fill-opacity="0.7"/><rect x="137.2" y="122.5" width="4.9" height="4.9" fill="#f1a351" fill-opacity="0.7"/><rect x="137.2" y="132.3" width="4.9" height="4.9" fill="#f1a351" fill-opacity="0.7"/><rect x="142.1" y="63.7" width="4.9" height="4.9" fill="#f1a351" fill-opacity="0.7"/><rect x="142.1" y="68.6" width="4.9" height="4.9" fill="#f1a351" fill-opacity="0.7"/><rect x="142.1" y="93.1" width="4.9" height="4.9" fill="#f1a351" fill-opacity="0.7"/><rect x="147.0" y="53.9" width="4.9" height="4.9" fill="#f1a351" fill-opacity="0.7"/><rect x="147.0" y="88.2" width="4.9" height="4.9" fill="#f1a351" fill-opacity="0.7"/><rect x="147.0" y="132.3" width="4.9" height="4.9" fill="#f1a351" fill-opacity="0.7"/><rect x="93.1" y="112.7" width="4.9" height="4.9" fill="#f5ce90" fill-opacity="0.7"/><rect x="93.1" y="127.4" width="4.9" height="4.9" fill="#f5ce90" fill-opacity="0.7"/><rect x="98.0" y="73.5" width="4.9" height="4.9" fill="#f5ce90" fill-opacity="0.7"/><rect x="98.0" y="83.3" width="4.9" height="4.9" fill="#f5ce90" fill-opacity="0.7"/><rect x="98.0" y="102.9" width="4.9" height="4.9" fill="#f5ce90" fill-opacity="0.7"/><rect x="98.0" y="122.5" width="4.9" height="4.9" fill="#f5ce90" fill-opacity="0.7"/><rect x="102.9" y="63.7" width="4.9" height="4.9" fill="#f5ce90" fill-opacity="0.7"/><rect x="102.9" y="78.4" width="4.9" height="4.9" fill="#f5ce90" fill-opacity="0.7"/><rect x="102.9" y="122.5" width="4.9" height="4.9" fill="#f5ce90" fill-opacity="0.7"/><rect x="107.8" y="93.1" width="4.9" height="4.9" fill="#f5ce90" fill-opacity="0.7"/><rect x="112.7" y="63.7" width="4.9" height="4.9" fill="#f5ce90" fill-opacity="0.7"/><rect x="112.7" y="73.5" width="4.9" height="4.9" fill="#f5ce90" fill-opacity="0.7"/><rect x="117.6" y="53.9" width="4.9" height="4.9" fill="#f5ce90" fill-opacity="0.7"/><rect x="117.6" y="68.6" width="4.9" height="4.9" fill="#f5ce90" fill-opacity="0.7"/><rect x="117.6" y="98.0" width="4.9" height="4.9" fill="#f5ce90" fill-opacity="0.7"/><rect x="117.6" y="107.8" width="4.9" height="4.9" fill="#f5ce90" fill-opacity="0.7"/><rect x="117.6" y="117.6" width="4.9" height="4.9" fill="#f5ce90" fill-opacity="0.7"/><rect x="122.5" y="63.7" width="4.9" height="4.9" fill="#f5ce90" fill-opacity="0.7"/><rect x="122.5" y="68.6" width="4.9" height="4.9" fill="#f5ce90" fill-opacity="0.7"/><rect x="122.5" y="88.2" width="4.9" height="4.9" fill="#f5ce90" fill-opacity="0.7"/><rect x="122.5" y="98.0" width="4.9" height="4.9" fill="#f5ce90" fill-opacity="0.7"/><rect x="127.4" y="83.3" width="4.9" height="4.9" fill="#f5ce90" fill-opacity="0.7"/><rect x="127.4" y="93.1" width="4.9" height="4.9" fill="#f5ce90" fill-opacity="0.7"/><rect x="132.3" y="68.6" width="4.9" height="4.9" fill="#f5ce90" fill-opacity="0.7"/><rect x="132.3" y="122.5" width="4.9" height="4.9" fill="#f5ce90" fill-opacity="0.7"/><rect x="137.2" y="112.7" width="4.9" height="4.9" fill="#f5ce90" fill-opacity="0.7"/><rect x="137.2" y="137.2" width="4.9" height="4.9" fill="#f5ce90" fill-opacity="0.7"/><rect x="142.1" y="83.3" width="4.9" height="4.9" fill="#f5ce90" fill-opacity="0.7"/><rect x="147.0" y="117.6" width="4.9" height="4.9" fill="#f5ce90" fill-opacity="0.7"/></g>
<g filter="url(#bl2)"><rect x="51" y="90.5" width="10.5" height="3.5" fill="#f5c069" fill-opacity="1"/><rect x="40" y="87.5" width="24" height="3" fill="#f3b75f" fill-opacity="0.9"/><rect x="149" y="97.7" width="4" height="4" fill="#abd4e6" fill-opacity="0.95"/><rect x="145" y="107" width="4" height="7" fill="#abd4e6" fill-opacity="0.9"/><rect x="170" y="99.7" width="4" height="4" fill="#abd4e6" fill-opacity="0.9"/><rect x="122" y="132.5" width="7" height="4" fill="#abd4e6" fill-opacity="0.9"/><rect x="104" y="117" width="3" height="4" fill="#abd4e6" fill-opacity="0.9"/></g>
<g clip-path="url(#nw)"><rect x="0" y="0" width="180" height="145" fill="url(#tex)"/></g>
<g clip-path="url(#se)"><rect x="0" y="0" width="180" height="145" fill="url(#tex2)"/>
<use href="#jn"/></g>
<rect x="0" y="0" width="180" height="145" filter="url(#nz)" opacity="0.55"/>
<g filter="url(#bl3)"><ellipse cx="131.3" cy="59.3" rx="1.9" ry="4" fill="#ee6815" fill-opacity="1"/><ellipse cx="152.3" cy="58.4" rx="1.8" ry="3.1" fill="#f06e19" fill-opacity="1"/></g>
<path d="M40.1,19.7 L50,27.5 L61.2,36.6 M26.6,56 L34.4,60.8 L37.3,65.7 L39.2,70.5 L41.2,75.4 L42.1,80.2 L44,86 L46,91.8 M51.7,36.5 Q56,30 59,28 Q63,26.5 65.5,28.5 L68.5,27.5 M57,31 Q61,34 64.5,32.5 L66,35" stroke="#44525c" stroke-width="0.6" stroke-opacity="0.5" fill="none"/>
</g>
<text x="88.9" y="25.7" text-anchor="middle" font-family="Liberation Sans, Arial, sans-serif" font-size="11.8" fill="#000" stroke="#000" stroke-width="0.25">Met</text>
<rect x="115.1" y="15.4" width="54" height="14" fill="url(#cb)"/>
<text x="114.40" y="41.1" text-anchor="middle" font-family="Liberation Sans, Arial, sans-serif" font-size="9.4" fill="#000" stroke="#000" stroke-width="0.32" transform="translate(114.40,0) scale(0.83,1) translate(-114.40,0)">0.0</text>
<text x="127.70" y="41.1" text-anchor="middle" font-family="Liberation Sans, Arial, sans-serif" font-size="9.4" fill="#000" stroke="#000" stroke-width="0.32" transform="translate(127.70,0) scale(0.83,1) translate(-127.70,0)">0.1</text>
<text x="141.00" y="41.1" text-anchor="middle" font-family="Liberation Sans, Arial, sans-serif" font-size="9.4" fill="#000" stroke="#000" stroke-width="0.32" transform="translate(141.00,0) scale(0.83,1) translate(-141.00,0)">0.2</text>
<text x="154.30" y="41.1" text-anchor="middle" font-family="Liberation Sans, Arial, sans-serif" font-size="9.4" fill="#000" stroke="#000" stroke-width="0.32" transform="translate(154.30,0) scale(0.83,1) translate(-154.30,0)">0.3</text>
<text x="167.60" y="41.1" text-anchor="middle" font-family="Liberation Sans, Arial, sans-serif" font-size="9.4" fill="#000" stroke="#000" stroke-width="0.32" transform="translate(167.60,0) scale(0.83,1) translate(-167.60,0)">0.4</text>
</g>
<g transform="translate(0,140.5)">
<g clip-path="url(#m)">
<rect x="0" y="0" width="180" height="145" fill="#f4b15f"/>
<g filter="url(#bl)"><ellipse cx="50" cy="24" rx="12" ry="8" fill="#f09c49" fill-opacity="0.8"/><ellipse cx="38" cy="68" rx="3" ry="8" fill="#f5c07a" fill-opacity="0.8"/><ellipse cx="68" cy="84" rx="22" ry="5" fill="#f4ba73" fill-opacity="0.7"/><ellipse cx="118" cy="80" rx="12" ry="14" fill="#ef9043" fill-opacity="0.9"/><ellipse cx="165" cy="63" rx="12" ry="9" fill="#ee8037" fill-opacity="0.9"/><ellipse cx="139" cy="99" rx="12" ry="2.5" fill="#ee8c3c" fill-opacity="0.8"/><ellipse cx="116" cy="57" rx="13" ry="3" fill="#f5be77" fill-opacity="0.8"/></g>
<g filter="url(#bl3)"><rect x="0.0" y="29.4" width="4.9" height="4.9" fill="#f6c075" fill-opacity="0.8"/><rect x="0.0" y="34.3" width="4.9" height="4.9" fill="#f6c075" fill-opacity="0.8"/><rect x="0.0" y="44.1" width="4.9" height="4.9" fill="#f6c075" fill-opacity="0.8"/><rect x="0.0" y="49.0" width="4.9" height="4.9" fill="#f6c075" fill-opacity="0.8"/><rect x="0.0" y="78.4" width="4.9" height="4.9" fill="#f6c075" fill-opacity="0.8"/><rect x="0.0" y="83.3" width="4.9" height="4.9" fill="#f6c075" fill-opacity="0.8"/><rect x="0.0" y="93.1" width="4.9" height="4.9" fill="#f6c075" fill-opacity="0.8"/><rect x="4.9" y="34.3" width="4.9" height="4.9" fill="#f6c075" fill-opacity="0.8"/><rect x="4.9" y="39.2" width="4.9" height="4.9" fill="#f6c075" fill-opacity="0.8"/><rect x="4.9" y="44.1" width="4.9" height="4.9" fill="#f6c075" fill-opacity="0.8"/><rect x="4.9" y="68.6" width="4.9" height="4.9" fill="#f6c075" fill-opacity="0.8"/><rect x="4.9" y="73.5" width="4.9" height="4.9" fill="#f6c075" fill-opacity="0.8"/><rect x="4.9" y="88.2" width="4.9" height="4.9" fill="#f6c075" fill-opacity="0.8"/><rect x="4.9" y="93.1" width="4.9" height="4.9" fill="#f6c075" fill-opacity="0.8"/><rect x="9.8" y="14.7" width="4.9" height="4.9" fill="#f6c075" fill-opacity="0.8"/><rect x="9.8" y="24.5" width="4.9" height="4.9" fill="#f6c075" fill-opacity="0.8"/><rect x="9.8" y="53.9" width="4.9" height="4.9" fill="#f6c075" fill-opacity="0.8"/><rect x="9.8" y="58.8" width="4.9" height="4.9" fill="#f6c075" fill-opacity="0.8"/><rect x="9.8" y="73.5" width="4.9" height="4.9" fill="#f6c075" fill-opacity="0.8"/><rect x="9.8" y="88.2" width="4.9" height="4.9" fill="#f6c075" fill-opacity="0.8"/><rect x="9.8" y="93.1" width="4.9" height="4.9" fill="#f6c075" fill-opacity="0.8"/><rect x="14.7" y="19.6" width="4.9" height="4.9" fill="#f6c075" fill-opacity="0.8"/><rect x="14.7" y="34.3" width="4.9" height="4.9" fill="#f6c075" fill-opacity="0.8"/><rect x="14.7" y="39.2" width="4.9" height="4.9" fill="#f6c075" fill-opacity="0.8"/><rect x="14.7" y="53.9" width="4.9" height="4.9" fill="#f6c075" fill-opacity="0.8"/><rect x="14.7" y="58.8" width="4.9" height="4.9" fill="#f6c075" fill-opacity="0.8"/><rect x="14.7" y="73.5" width="4.9" height="4.9" fill="#f6c075" fill-opacity="0.8"/><rect x="14.7" y="78.4" width="4.9" height="4.9" fill="#f6c075" fill-opacity="0.8"/><rect x="19.6" y="14.7" width="4.9" height="4.9" fill="#f6c075" fill-opacity="0.8"/><rect x="19.6" y="29.4" width="4.9" height="4.9" fill="#f6c075" fill-opacity="0.8"/><rect x="19.6" y="39.2" width="4.9" height="4.9" fill="#f6c075" fill-opacity="0.8"/><rect x="19.6" y="88.2" width="4.9" height="4.9" fill="#f6c075" fill-opacity="0.8"/><rect x="19.6" y="93.1" width="4.9" height="4.9" fill="#f6c075" fill-opacity="0.8"/><rect x="24.5" y="14.7" width="4.9" height="4.9" fill="#f6c075" fill-opacity="0.8"/><rect x="24.5" y="34.3" width="4.9" height="4.9" fill="#f6c075" fill-opacity="0.8"/><rect x="24.5" y="78.4" width="4.9" height="4.9" fill="#f6c075" fill-opacity="0.8"/><rect x="29.4" y="24.5" width="4.9" height="4.9" fill="#f6c075" fill-opacity="0.8"/><rect x="29.4" y="29.4" width="4.9" height="4.9" fill="#f6c075" fill-opacity="0.8"/><rect x="29.4" y="44.1" width="4.9" height="4.9" fill="#f6c075" fill-opacity="0.8"/><rect x="29.4" y="49.0" width="4.9" height="4.9" fill="#f6c075" fill-opacity="0.8"/><rect x="29.4" y="73.5" width="4.9" height="4.9" fill="#f6c075" fill-opacity="0.8"/><rect x="29.4" y="88.2" width="4.9" height="4.9" fill="#f6c075" fill-opacity="0.8"/><rect x="34.3" y="39.2" width="4.9" height="4.9" fill="#f6c075" fill-opacity="0.8"/><rect x="34.3" y="83.3" width="4.9" height="4.9" fill="#f6c075" fill-opacity="0.8"/><rect x="34.3" y="88.2" width="4.9" height="4.9" fill="#f6c075" fill-opacity="0.8"/><rect x="39.2" y="14.7" width="4.9" height="4.9" fill="#f6c075" fill-opacity="0.8"/><rect x="39.2" y="19.6" width="4.9" height="4.9" fill="#f6c075" fill-opacity="0.8"/><rect x="39.2" y="49.0" width="4.9" height="4.9" fill="#f6c075" fill-opacity="0.8"/><rect x="39.2" y="53.9" width="4.9" height="4.9" fill="#f6c075" fill-opacity="0.8"/><rect x="39.2" y="68.6" width="4.9" height="4.9" fill="#f6c075" fill-opacity="0.8"/><rect x="39.2" y="88.2" width="4.9" height="4.9" fill="#f6c075" fill-opacity="0.8"/><rect x="44.1" y="24.5" width="4.9" height="4.9" fill="#f6c075" fill-opacity="0.8"/><rect x="44.1" y="83.3" width="4.9" height="4.9" fill="#f6c075" fill-opacity="0.8"/><rect x="44.1" y="88.2" width="4.9" height="4.9" fill="#f6c075" fill-opacity="0.8"/><rect x="49.0" y="44.1" width="4.9" height="4.9" fill="#f6c075" fill-opacity="0.8"/><rect x="49.0" y="58.8" width="4.9" height="4.9" fill="#f6c075" fill-opacity="0.8"/><rect x="49.0" y="68.6" width="4.9" height="4.9" fill="#f6c075" fill-opacity="0.8"/><rect x="49.0" y="88.2" width="4.9" height="4.9" fill="#f6c075" fill-opacity="0.8"/><rect x="49.0" y="93.1" width="4.9" height="4.9" fill="#f6c075" fill-opacity="0.8"/><rect x="53.9" y="14.7" width="4.9" height="4.9" fill="#f6c075" fill-opacity="0.8"/><rect x="53.9" y="29.4" width="4.9" height="4.9" fill="#f6c075" fill-opacity="0.8"/><rect x="53.9" y="44.1" width="4.9" height="4.9" fill="#f6c075" fill-opacity="0.8"/><rect x="53.9" y="53.9" width="4.9" height="4.9" fill="#f6c075" fill-opacity="0.8"/><rect x="58.8" y="19.6" width="4.9" height="4.9" fill="#f6c075" fill-opacity="0.8"/><rect x="58.8" y="29.4" width="4.9" height="4.9" fill="#f6c075" fill-opacity="0.8"/><rect x="63.7" y="14.7" width="4.9" height="4.9" fill="#f6c075" fill-opacity="0.8"/><rect x="63.7" y="58.8" width="4.9" height="4.9" fill="#f6c075" fill-opacity="0.8"/><rect x="63.7" y="68.6" width="4.9" height="4.9" fill="#f6c075" fill-opacity="0.8"/><rect x="63.7" y="78.4" width="4.9" height="4.9" fill="#f6c075" fill-opacity="0.8"/><rect x="63.7" y="83.3" width="4.9" height="4.9" fill="#f6c075" fill-opacity="0.8"/><rect x="63.7" y="93.1" width="4.9" height="4.9" fill="#f6c075" fill-opacity="0.8"/><rect x="68.6" y="14.7" width="4.9" height="4.9" fill="#f6c075" fill-opacity="0.8"/><rect x="68.6" y="68.6" width="4.9" height="4.9" fill="#f6c075" fill-opacity="0.8"/><rect x="68.6" y="78.4" width="4.9" height="4.9" fill="#f6c075" fill-opacity="0.8"/><rect x="68.6" y="93.1" width="4.9" height="4.9" fill="#f6c075" fill-opacity="0.8"/><rect x="73.5" y="14.7" width="4.9" height="4.9" fill="#f6c075" fill-opacity="0.8"/><rect x="73.5" y="19.6" width="4.9" height="4.9" fill="#f6c075" fill-opacity="0.8"/><rect x="73.5" y="44.1" width="4.9" height="4.9" fill="#f6c075" fill-opacity="0.8"/><rect x="73.5" y="53.9" width="4.9" height="4.9" fill="#f6c075" fill-opacity="0.8"/><rect x="73.5" y="58.8" width="4.9" height="4.9" fill="#f6c075" fill-opacity="0.8"/><rect x="73.5" y="63.7" width="4.9" height="4.9" fill="#f6c075" fill-opacity="0.8"/><rect x="73.5" y="68.6" width="4.9" height="4.9" fill="#f6c075" fill-opacity="0.8"/><rect x="73.5" y="78.4" width="4.9" height="4.9" fill="#f6c075" fill-opacity="0.8"/><rect x="73.5" y="93.1" width="4.9" height="4.9" fill="#f6c075" fill-opacity="0.8"/><rect x="78.4" y="24.5" width="4.9" height="4.9" fill="#f6c075" fill-opacity="0.8"/><rect x="78.4" y="34.3" width="4.9" height="4.9" fill="#f6c075" fill-opacity="0.8"/><rect x="78.4" y="44.1" width="4.9" height="4.9" fill="#f6c075" fill-opacity="0.8"/><rect x="78.4" y="53.9" width="4.9" height="4.9" fill="#f6c075" fill-opacity="0.8"/><rect x="78.4" y="78.4" width="4.9" height="4.9" fill="#f6c075" fill-opacity="0.8"/><rect x="78.4" y="88.2" width="4.9" height="4.9" fill="#f6c075" fill-opacity="0.8"/><rect x="83.3" y="34.3" width="4.9" height="4.9" fill="#f6c075" fill-opacity="0.8"/><rect x="83.3" y="39.2" width="4.9" height="4.9" fill="#f6c075" fill-opacity="0.8"/><rect x="83.3" y="44.1" width="4.9" height="4.9" fill="#f6c075" fill-opacity="0.8"/><rect x="83.3" y="53.9" width="4.9" height="4.9" fill="#f6c075" fill-opacity="0.8"/><rect x="83.3" y="63.7" width="4.9" height="4.9" fill="#f6c075" fill-opacity="0.8"/><rect x="83.3" y="83.3" width="4.9" height="4.9" fill="#f6c075" fill-opacity="0.8"/><rect x="88.2" y="14.7" width="4.9" height="4.9" fill="#f6c075" fill-opacity="0.8"/><rect x="88.2" y="19.6" width="4.9" height="4.9" fill="#f6c075" fill-opacity="0.8"/><rect x="88.2" y="34.3" width="4.9" height="4.9" fill="#f6c075" fill-opacity="0.8"/><rect x="88.2" y="73.5" width="4.9" height="4.9" fill="#f6c075" fill-opacity="0.8"/><rect x="88.2" y="88.2" width="4.9" height="4.9" fill="#f6c075" fill-opacity="0.8"/><rect x="102.9" y="83.3" width="4.9" height="4.9" fill="#ec7f37" fill-opacity="0.8"/><rect x="107.8" y="78.4" width="4.9" height="4.9" fill="#ec7f37" fill-opacity="0.8"/><rect x="107.8" y="83.3" width="4.9" height="4.9" fill="#ec7f37" fill-opacity="0.8"/><rect x="112.7" y="88.2" width="4.9" height="4.9" fill="#ec7f37" fill-opacity="0.8"/><rect x="117.6" y="78.4" width="4.9" height="4.9" fill="#ec7f37" fill-opacity="0.8"/><rect x="122.5" y="78.4" width="4.9" height="4.9" fill="#ec7f37" fill-opacity="0.8"/><rect x="122.5" y="88.2" width="4.9" height="4.9" fill="#ec7f37" fill-opacity="0.8"/><rect x="93.1" y="102.9" width="4.9" height="4.9" fill="#ef9343" fill-opacity="0.7"/><rect x="93.1" y="132.3" width="4.9" height="4.9" fill="#ef9343" fill-opacity="0.7"/><rect x="93.1" y="137.2" width="4.9" height="4.9" fill="#ef9343" fill-opacity="0.7"/><rect x="98.0" y="98.0" width="4.9" height="4.9" fill="#ef9343" fill-opacity="0.7"/><rect x="98.0" y="107.8" width="4.9" height="4.9" fill="#ef9343" fill-opacity="0.7"/><rect x="98.0" y="137.2" width="4.9" height="4.9" fill="#ef9343" fill-opacity="0.7"/><rect x="102.9" y="122.5" width="4.9" height="4.9" fill="#ef9343" fill-opacity="0.7"/><rect x="102.9" y="127.4" width="4.9" height="4.9" fill="#ef9343" fill-opacity="0.7"/><rect x="107.8" y="112.7" width="4.9" height="4.9" fill="#ef9343" fill-opacity="0.7"/><rect x="107.8" y="132.3" width="4.9" height="4.9" fill="#ef9343" fill-opacity="0.7"/><rect x="112.7" y="93.1" width="4.9" height="4.9" fill="#ef9343" fill-opacity="0.7"/><rect x="112.7" y="98.0" width="4.9" height="4.9" fill="#ef9343" fill-opacity="0.7"/><rect x="112.7" y="122.5" width="4.9" height="4.9" fill="#ef9343" fill-opacity="0.7"/><rect x="117.6" y="107.8" width="4.9" height="4.9" fill="#ef9343" fill-opacity="0.7"/><rect x="117.6" y="122.5" width="4.9" height="4.9" fill="#ef9343" fill-opacity="0.7"/><rect x="122.5" y="93.1" width="4.9" height="4.9" fill="#ef9343" fill-opacity="0.7"/><rect x="127.4" y="98.0" width="4.9" height="4.9" fill="#ef9343" fill-opacity="0.7"/><rect x="127.4" y="112.7" width="4.9" height="4.9" fill="#ef9343" fill-opacity="0.7"/><rect x="127.4" y="117.6" width="4.9" height="4.9" fill="#ef9343" fill-opacity="0.7"/><rect x="127.4" y="127.4" width="4.9" height="4.9" fill="#ef9343" fill-opacity="0.7"/><rect x="132.3" y="102.9" width="4.9" height="4.9" fill="#ef9343" fill-opacity="0.7"/><rect x="132.3" y="112.7" width="4.9" height="4.9" fill="#ef9343" fill-opacity="0.7"/><rect x="132.3" y="117.6" width="4.9" height="4.9" fill="#ef9343" fill-opacity="0.7"/><rect x="132.3" y="132.3" width="4.9" height="4.9" fill="#ef9343" fill-opacity="0.7"/><rect x="137.2" y="107.8" width="4.9" height="4.9" fill="#ef9343" fill-opacity="0.7"/><rect x="137.2" y="117.6" width="4.9" height="4.9" fill="#ef9343" fill-opacity="0.7"/><rect x="142.1" y="107.8" width="4.9" height="4.9" fill="#ef9343" fill-opacity="0.7"/><rect x="142.1" y="112.7" width="4.9" height="4.9" fill="#ef9343" fill-opacity="0.7"/><rect x="142.1" y="117.6" width="4.9" height="4.9" fill="#ef9343" fill-opacity="0.7"/><rect x="147.0" y="93.1" width="4.9" height="4.9" fill="#ef9343" fill-opacity="0.7"/><rect x="151.9" y="102.9" width="4.9" height="4.9" fill="#ef9343" fill-opacity="0.7"/><rect x="151.9" y="137.2" width="4.9" height="4.9" fill="#ef9343" fill-opacity="0.7"/><rect x="156.8" y="102.9" width="4.9" height="4.9" fill="#ef9343" fill-opacity="0.7"/><rect x="161.7" y="107.8" width="4.9" height="4.9" fill="#ef9343" fill-opacity="0.7"/><rect x="161.7" y="112.7" width="4.9" height="4.9" fill="#ef9343" fill-opacity="0.7"/><rect x="166.6" y="93.1" width="4.9" height="4.9" fill="#ef9343" fill-opacity="0.7"/><rect x="166.6" y="102.9" width="4.9" height="4.9" fill="#ef9343" fill-opacity="0.7"/><rect x="171.5" y="107.8" width="4.9" height="4.9" fill="#ef9343" fill-opacity="0.7"/><rect x="171.5" y="137.2" width="4.9" height="4.9" fill="#ef9343" fill-opacity="0.7"/><rect x="93.1" y="107.8" width="4.9" height="4.9" fill="#f5be7a" fill-opacity="0.7"/><rect x="93.1" y="127.4" width="4.9" height="4.9" fill="#f5be7a" fill-opacity="0.7"/><rect x="98.0" y="53.9" width="4.9" height="4.9" fill="#f5be7a" fill-opacity="0.7"/><rect x="98.0" y="107.8" width="4.9" height="4.9" fill="#f5be7a" fill-opacity="0.7"/><rect x="102.9" y="68.6" width="4.9" height="4.9" fill="#f5be7a" fill-opacity="0.7"/><rect x="102.9" y="107.8" width="4.9" height="4.9" fill="#f5be7a" fill-opacity="0.7"/><rect x="102.9" y="127.4" width="4.9" height="4.9" fill="#f5be7a" fill-opacity="0.7"/><rect x="102.9" y="137.2" width="4.9" height="4.9" fill="#f5be7a" fill-opacity="0.7"/><rect x="107.8" y="68.6" width="4.9" height="4.9" fill="#f5be7a" fill-opacity="0.7"/><rect x="107.8" y="73.5" width="4.9" height="4.9" fill="#f5be7a" fill-opacity="0.7"/><rect x="107.8" y="107.8" width="4.9" height="4.9" fill="#f5be7a" fill-opacity="0.7"/><rect x="107.8" y="132.3" width="4.9" height="4.9" fill="#f5be7a" fill-opacity="0.7"/><rect x="112.7" y="117.6" width="4.9" height="4.9" fill="#f5be7a" fill-opacity="0.7"/><rect x="117.6" y="88.2" width="4.9" height="4.9" fill="#f5be7a" fill-opacity="0.7"/><rect x="122.5" y="88.2" width="4.9" height="4.9" fill="#f5be7a" fill-opacity="0.7"/><rect x="122.5" y="102.9" width="4.9" height="4.9" fill="#f5be7a" fill-opacity="0.7"/><rect x="122.5" y="112.7" width="4.9" height="4.9" fill="#f5be7a" fill-opacity="0.7"/><rect x="132.3" y="53.9" width="4.9" height="4.9" fill="#f5be7a" fill-opacity="0.7"/><rect x="132.3" y="58.8" width="4.9" height="4.9" fill="#f5be7a" fill-opacity="0.7"/><rect x="132.3" y="88.2" width="4.9" height="4.9" fill="#f5be7a" fill-opacity="0.7"/><rect x="137.2" y="102.9" width="4.9" height="4.9" fill="#f5be7a" fill-opacity="0.7"/><rect x="142.1" y="98.0" width="4.9" height="4.9" fill="#f5be7a" fill-opacity="0.7"/><rect x="147.0" y="88.2" width="4.9" height="4.9" fill="#f5be7a" fill-opacity="0.7"/><rect x="147.0" y="93.1" width="4.9" height="4.9" fill="#f5be7a" fill-opacity="0.7"/><rect x="151.9" y="117.6" width="4.9" height="4.9" fill="#f5be7a" fill-opacity="0.7"/><rect x="151.9" y="122.5" width="4.9" height="4.9" fill="#f5be7a" fill-opacity="0.7"/><rect x="151.9" y="127.4" width="4.9" height="4.9" fill="#f5be7a" fill-opacity="0.7"/><rect x="156.8" y="73.5" width="4.9" height="4.9" fill="#f5be7a" fill-opacity="0.7"/><rect x="156.8" y="112.7" width="4.9" height="4.9" fill="#f5be7a" fill-opacity="0.7"/><rect x="156.8" y="137.2" width="4.9" height="4.9" fill="#f5be7a" fill-opacity="0.7"/><rect x="161.7" y="63.7" width="4.9" height="4.9" fill="#f5be7a" fill-opacity="0.7"/><rect x="161.7" y="112.7" width="4.9" height="4.9" fill="#f5be7a" fill-opacity="0.7"/><rect x="161.7" y="132.3" width="4.9" height="4.9" fill="#f5be7a" fill-opacity="0.7"/><rect x="166.6" y="53.9" width="4.9" height="4.9" fill="#f5be7a" fill-opacity="0.7"/><rect x="166.6" y="63.7" width="4.9" height="4.9" fill="#f5be7a" fill-opacity="0.7"/><rect x="166.6" y="137.2" width="4.9" height="4.9" fill="#f5be7a" fill-opacity="0.7"/><rect x="171.5" y="68.6" width="4.9" height="4.9" fill="#f5be7a" fill-opacity="0.7"/><rect x="171.5" y="73.5" width="4.9" height="4.9" fill="#f5be7a" fill-opacity="0.7"/><rect x="171.5" y="93.1" width="4.9" height="4.9" fill="#f5be7a" fill-opacity="0.7"/><rect x="171.5" y="98.0" width="4.9" height="4.9" fill="#f5be7a" fill-opacity="0.7"/></g>
<g filter="url(#bl2)"><rect x="149" y="100" width="3.6" height="3.8" fill="#f6deb4" fill-opacity="1"/><rect x="147" y="107.5" width="3.7" height="6.5" fill="#f5d7a8" fill-opacity="0.9"/><rect x="121" y="132.5" width="8" height="3.5" fill="#f3e1c3" fill-opacity="1"/><rect x="103" y="116.6" width="4" height="3.8" fill="#f5d7a8" fill-opacity="0.9"/><rect x="134" y="101.5" width="2" height="2" fill="#d4e5ea" fill-opacity="1"/><rect x="170" y="100" width="2" height="2" fill="#d4e5ea" fill-opacity="1"/><rect x="46.5" y="84.5" width="1.5" height="1.5" fill="#d4e5ea" fill-opacity="1"/></g>
<g clip-path="url(#nw)"><rect x="0" y="0" width="180" height="145" fill="url(#tex)"/></g>
<g clip-path="url(#se)"><rect x="0" y="0" width="180" height="145" fill="url(#tex2)"/>
<use href="#jn"/></g>
<rect x="0" y="0" width="180" height="145" filter="url(#nz)" opacity="0.55"/>
<g filter="url(#bl3)"><ellipse cx="56.2" cy="92.2" rx="5.3" ry="1.6" fill="#e84e1b" fill-opacity="1"/><ellipse cx="132.2" cy="59.8" rx="1.1" ry="3.2" fill="#99cfec" fill-opacity="1"/><ellipse cx="150.3" cy="60" rx="1.3" ry="2.4" fill="#c8050a" fill-opacity="1"/><ellipse cx="152.2" cy="57.6" rx="0.9" ry="1.8" fill="#8cc5e6" fill-opacity="1"/></g>
<path d="M40.1,19.7 L50,27.5 L61.2,36.6 M26.6,56 L34.4,60.8 L37.3,65.7 L39.2,70.5 L41.2,75.4 L42.1,80.2 L44,86 L46,91.8 M51.7,36.5 Q56,30 59,28 Q63,26.5 65.5,28.5 L68.5,27.5 M57,31 Q61,34 64.5,32.5 L66,35" stroke="#44525c" stroke-width="0.6" stroke-opacity="0.5" fill="none"/>
</g>
<text x="88.9" y="25.7" text-anchor="middle" font-family="Liberation Sans, Arial, sans-serif" font-size="11.8" fill="#000" stroke="#000" stroke-width="0.25">Mng</text>
<rect x="115.1" y="15.4" width="54" height="14" fill="url(#cb)"/>
<text x="114.40" y="41.1" text-anchor="middle" font-family="Liberation Sans, Arial, sans-serif" font-size="9.4" fill="#000" stroke="#000" stroke-width="0.32" transform="translate(114.40,0) scale(0.83,1) translate(-114.40,0)">0.0</text>
<text x="127.70" y="41.1" text-anchor="middle" font-family="Liberation Sans, Arial, sans-serif" font-size="9.4" fill="#000" stroke="#000" stroke-width="0.32" transform="translate(127.70,0) scale(0.83,1) translate(-127.70,0)">0.1</text>
<text x="141.00" y="41.1" text-anchor="middle" font-family="Liberation Sans, Arial, sans-serif" font-size="9.4" fill="#000" stroke="#000" stroke-width="0.32" transform="translate(141.00,0) scale(0.83,1) translate(-141.00,0)">0.2</text>
<text x="154.30" y="41.1" text-anchor="middle" font-family="Liberation Sans, Arial, sans-serif" font-size="9.4" fill="#000" stroke="#000" stroke-width="0.32" transform="translate(154.30,0) scale(0.83,1) translate(-154.30,0)">0.3</text>
<text x="167.60" y="41.1" text-anchor="middle" font-family="Liberation Sans, Arial, sans-serif" font-size="9.4" fill="#000" stroke="#000" stroke-width="0.32" transform="translate(167.60,0) scale(0.83,1) translate(-167.60,0)">0.4</text>
</g>
<g transform="translate(199,140.5)">
<g clip-path="url(#m)">
<rect x="0" y="0" width="180" height="145" fill="#a8d0e6"/>
<g filter="url(#bl2)"><polygon points="30,10 95,10 95,58 87,58 87,92 66,92 66,56 42,56 42,100 0,100 0,40 30,40" fill="#f3b467" fill-opacity="1"/><polygon points="30,10 56,10 56,30 45,44 42,44 42,100 0,100 0,40 30,40" fill="#f09343" fill-opacity="1"/><polygon points="103,52 131,52 131,61.5 103,61.5" fill="#f4bb6e" fill-opacity="1"/><polygon points="150,50 180,50 180,95 152,95" fill="#f3d5a1" fill-opacity="1"/><polygon points="150,94 180,94 180,115 150,115" fill="#c1dce6" fill-opacity="1"/></g>
<g filter="url(#bl)"><ellipse cx="46" cy="22" rx="9" ry="7" fill="#f09340" fill-opacity="0.9"/><ellipse cx="68" cy="33" rx="10" ry="9" fill="#f6d08d" fill-opacity="0.9"/><ellipse cx="64" cy="35" rx="4" ry="3" fill="#cadee4" fill-opacity="0.8"/><ellipse cx="17" cy="65" rx="4" ry="5" fill="#e84e1b" fill-opacity="0.95"/><ellipse cx="37" cy="82" rx="5" ry="13" fill="#f6cd86" fill-opacity="0.8"/><ellipse cx="22" cy="58" rx="8" ry="8" fill="#ec7d30" fill-opacity="0.8"/><ellipse cx="30" cy="66" rx="8" ry="10" fill="#ee8839" fill-opacity="0.6"/><ellipse cx="30" cy="90" rx="12" ry="9" fill="#f4b76b" fill-opacity="0.9"/><ellipse cx="9" cy="90" rx="8" ry="8" fill="#f3ae5d" fill-opacity="0.9"/><ellipse cx="34" cy="70" rx="6" ry="12" fill="#f3ac5a" fill-opacity="0.7"/><ellipse cx="54" cy="60" rx="10" ry="5" fill="#cee2e6" fill-opacity="0.8"/><ellipse cx="54" cy="86" rx="10" ry="7" fill="#8dbee0" fill-opacity="0.8"/><ellipse cx="56" cy="91" rx="7" ry="2.5" fill="#5994cf" fill-opacity="0.9"/><ellipse cx="76" cy="64" rx="6" ry="5" fill="#cee2e4" fill-opacity="0.6"/><ellipse cx="96" cy="75" rx="8" ry="15" fill="#bad9e8" fill-opacity="0.7"/><ellipse cx="118" cy="75" rx="14" ry="10" fill="#bcdae9" fill-opacity="0.8"/><ellipse cx="138" cy="88" rx="12" ry="8" fill="#bcdae9" fill-opacity="0.7"/><ellipse cx="122" cy="114" rx="25" ry="27" fill="#81b7df" fill-opacity="0.85"/><ellipse cx="100" cy="108" rx="8" ry="12" fill="#66a1d4" fill-opacity="0.8"/><ellipse cx="140" cy="95" rx="10" ry="8" fill="#94c2e2" fill-opacity="0.7"/><ellipse cx="165" cy="60" rx="7" ry="4" fill="#f2a553" fill-opacity="0.9"/><ellipse cx="160" cy="82" rx="6" ry="8" fill="#f1c98e" fill-opacity="0.6"/></g>
<g filter="url(#bl3)"><rect x="44.1" y="53.9" width="4.9" height="4.9" fill="#bfdae6" fill-opacity="0.8"/><rect x="44.1" y="73.5" width="4.9" height="4.9" fill="#bfdae6" fill-opacity="0.8"/><rect x="44.1" y="83.3" width="4.9" height="4.9" fill="#bfdae6" fill-opacity="0.8"/><rect x="44.1" y="88.2" width="4.9" height="4.9" fill="#bfdae6" fill-opacity="0.8"/><rect x="49.0" y="68.6" width="4.9" height="4.9" fill="#bfdae6" fill-opacity="0.8"/><rect x="49.0" y="78.4" width="4.9" height="4.9" fill="#bfdae6" fill-opacity="0.8"/><rect x="49.0" y="88.2" width="4.9" height="4.9" fill="#bfdae6" fill-opacity="0.8"/><rect x="53.9" y="58.8" width="4.9" height="4.9" fill="#bfdae6" fill-opacity="0.8"/><rect x="53.9" y="63.7" width="4.9" height="4.9" fill="#bfdae6" fill-opacity="0.8"/><rect x="53.9" y="83.3" width="4.9" height="4.9" fill="#bfdae6" fill-opacity="0.8"/><rect x="58.8" y="53.9" width="4.9" height="4.9" fill="#bfdae6" fill-opacity="0.8"/><rect x="58.8" y="73.5" width="4.9" height="4.9" fill="#bfdae6" fill-opacity="0.8"/><rect x="58.8" y="78.4" width="4.9" height="4.9" fill="#bfdae6" fill-opacity="0.8"/><rect x="63.7" y="58.8" width="4.9" height="4.9" fill="#f2a958" fill-opacity="0.8"/><rect x="63.7" y="73.5" width="4.9" height="4.9" fill="#f2a958" fill-opacity="0.8"/><rect x="63.7" y="88.2" width="4.9" height="4.9" fill="#f2a958" fill-opacity="0.8"/><rect x="73.5" y="44.1" width="4.9" height="4.9" fill="#f2a958" fill-opacity="0.8"/><rect x="73.5" y="49.0" width="4.9" height="4.9" fill="#f2a958" fill-opacity="0.8"/><rect x="73.5" y="78.4" width="4.9" height="4.9" fill="#f2a958" fill-opacity="0.8"/><rect x="78.4" y="44.1" width="4.9" height="4.9" fill="#f2a958" fill-opacity="0.8"/><rect x="83.3" y="53.9" width="4.9" height="4.9" fill="#f2a958" fill-opacity="0.8"/><rect x="83.3" y="58.8" width="4.9" height="4.9" fill="#f2a958" fill-opacity="0.8"/><rect x="83.3" y="63.7" width="4.9" height="4.9" fill="#f2a958" fill-opacity="0.8"/><rect x="88.2" y="53.9" width="4.9" height="4.9" fill="#f2a958" fill-opacity="0.8"/><rect x="88.2" y="58.8" width="4.9" height="4.9" fill="#f2a958" fill-opacity="0.8"/><rect x="88.2" y="68.6" width="4.9" height="4.9" fill="#f2a958" fill-opacity="0.8"/><rect x="63.7" y="63.7" width="4.9" height="4.9" fill="#cbe1e6" fill-opacity="0.8"/><rect x="68.6" y="73.5" width="4.9" height="4.9" fill="#cbe1e6" fill-opacity="0.8"/><rect x="68.6" y="88.2" width="4.9" height="4.9" fill="#cbe1e6" fill-opacity="0.8"/><rect x="73.5" y="83.3" width="4.9" height="4.9" fill="#cbe1e6" fill-opacity="0.8"/><rect x="83.3" y="78.4" width="4.9" height="4.9" fill="#cbe1e6" fill-opacity="0.8"/><rect x="4.9" y="63.7" width="4.9" height="4.9" fill="#ee8c3e" fill-opacity="0.8"/><rect x="4.9" y="73.5" width="4.9" height="4.9" fill="#ee8c3e" fill-opacity="0.8"/><rect x="9.8" y="39.2" width="4.9" height="4.9" fill="#ee8c3e" fill-opacity="0.8"/><rect x="9.8" y="58.8" width="4.9" height="4.9" fill="#ee8c3e" fill-opacity="0.8"/><rect x="9.8" y="83.3" width="4.9" height="4.9" fill="#ee8c3e" fill-opacity="0.8"/><rect x="19.6" y="58.8" width="4.9" height="4.9" fill="#ee8c3e" fill-opacity="0.8"/><rect x="24.5" y="73.5" width="4.9" height="4.9" fill="#ee8c3e" fill-opacity="0.8"/><rect x="24.5" y="93.1" width="4.9" height="4.9" fill="#ee8c3e" fill-opacity="0.8"/><rect x="29.4" y="39.2" width="4.9" height="4.9" fill="#ee8c3e" fill-opacity="0.8"/><rect x="29.4" y="63.7" width="4.9" height="4.9" fill="#ee8c3e" fill-opacity="0.8"/><rect x="34.3" y="53.9" width="4.9" height="4.9" fill="#ee8c3e" fill-opacity="0.8"/><rect x="34.3" y="63.7" width="4.9" height="4.9" fill="#ee8c3e" fill-opacity="0.8"/><rect x="34.3" y="68.6" width="4.9" height="4.9" fill="#ee8c3e" fill-opacity="0.8"/><rect x="34.3" y="73.5" width="4.9" height="4.9" fill="#ee8c3e" fill-opacity="0.8"/><rect x="34.3" y="83.3" width="4.9" height="4.9" fill="#ee8c3e" fill-opacity="0.8"/><rect x="39.2" y="49.0" width="4.9" height="4.9" fill="#ee8c3e" fill-opacity="0.8"/><rect x="39.2" y="53.9" width="4.9" height="4.9" fill="#ee8c3e" fill-opacity="0.8"/><rect x="39.2" y="63.7" width="4.9" height="4.9" fill="#ee8c3e" fill-opacity="0.8"/><rect x="39.2" y="68.6" width="4.9" height="4.9" fill="#ee8c3e" fill-opacity="0.8"/><rect x="39.2" y="93.1" width="4.9" height="4.9" fill="#ee8c3e" fill-opacity="0.8"/><rect x="93.1" y="58.8" width="4.9" height="4.9" fill="#c9e1ea" fill-opacity="0.7"/><rect x="93.1" y="63.7" width="4.9" height="4.9" fill="#c9e1ea" fill-opacity="0.7"/><rect x="93.1" y="78.4" width="4.9" height="4.9" fill="#c9e1ea" fill-opacity="0.7"/><rect x="98.0" y="58.8" width="4.9" height="4.9" fill="#c9e1ea" fill-opacity="0.7"/><rect x="98.0" y="73.5" width="4.9" height="4.9" fill="#c9e1ea" fill-opacity="0.7"/><rect x="98.0" y="83.3" width="4.9" height="4.9" fill="#c9e1ea" fill-opacity="0.7"/><rect x="107.8" y="73.5" width="4.9" height="4.9" fill="#c9e1ea" fill-opacity="0.7"/><rect x="112.7" y="63.7" width="4.9" height="4.9" fill="#c9e1ea" fill-opacity="0.7"/><rect x="117.6" y="68.6" width="4.9" height="4.9" fill="#c9e1ea" fill-opacity="0.7"/><rect x="117.6" y="78.4" width="4.9" height="4.9" fill="#c9e1ea" fill-opacity="0.7"/><rect x="122.5" y="63.7" width="4.9" height="4.9" fill="#c9e1ea" fill-opacity="0.7"/><rect x="122.5" y="73.5" width="4.9" height="4.9" fill="#c9e1ea" fill-opacity="0.7"/><rect x="127.4" y="58.8" width="4.9" height="4.9" fill="#c9e1ea" fill-opacity="0.7"/><rect x="127.4" y="63.7" width="4.9" height="4.9" fill="#c9e1ea" fill-opacity="0.7"/><rect x="127.4" y="88.2" width="4.9" height="4.9" fill="#c9e1ea" fill-opacity="0.7"/><rect x="132.3" y="58.8" width="4.9" height="4.9" fill="#c9e1ea" fill-opacity="0.7"/><rect x="132.3" y="63.7" width="4.9" height="4.9" fill="#c9e1ea" fill-opacity="0.7"/><rect x="132.3" y="73.5" width="4.9" height="4.9" fill="#c9e1ea" fill-opacity="0.7"/><rect x="132.3" y="88.2" width="4.9" height="4.9" fill="#c9e1ea" fill-opacity="0.7"/><rect x="142.1" y="58.8" width="4.9" height="4.9" fill="#c9e1ea" fill-opacity="0.7"/><rect x="142.1" y="88.2" width="4.9" height="4.9" fill="#c9e1ea" fill-opacity="0.7"/><rect x="147.0" y="68.6" width="4.9" height="4.9" fill="#c9e1ea" fill-opacity="0.7"/><rect x="147.0" y="73.5" width="4.9" height="4.9" fill="#c9e1ea" fill-opacity="0.7"/><rect x="147.0" y="83.3" width="4.9" height="4.9" fill="#c9e1ea" fill-opacity="0.7"/><rect x="93.1" y="98.0" width="4.9" height="4.9" fill="#6da1d3" fill-opacity="0.7"/><rect x="93.1" y="112.7" width="4.9" height="4.9" fill="#6da1d3" fill-opacity="0.7"/><rect x="98.0" y="98.0" width="4.9" height="4.9" fill="#6da1d3" fill-opacity="0.7"/><rect x="98.0" y="107.8" width="4.9" height="4.9" fill="#6da1d3" fill-opacity="0.7"/><rect x="107.8" y="122.5" width="4.9" height="4.9" fill="#6da1d3" fill-opacity="0.7"/><rect x="107.8" y="132.3" width="4.9" height="4.9" fill="#6da1d3" fill-opacity="0.7"/><rect x="112.7" y="107.8" width="4.9" height="4.9" fill="#6da1d3" fill-opacity="0.7"/><rect x="112.7" y="122.5" width="4.9" height="4.9" fill="#6da1d3" fill-opacity="0.7"/><rect x="112.7" y="127.4" width="4.9" height="4.9" fill="#6da1d3" fill-opacity="0.7"/><rect x="117.6" y="112.7" width="4.9" height="4.9" fill="#6da1d3" fill-opacity="0.7"/><rect x="117.6" y="127.4" width="4.9" height="4.9" fill="#6da1d3" fill-opacity="0.7"/><rect x="127.4" y="107.8" width="4.9" height="4.9" fill="#6da1d3" fill-opacity="0.7"/><rect x="127.4" y="112.7" width="4.9" height="4.9" fill="#6da1d3" fill-opacity="0.7"/><rect x="132.3" y="93.1" width="4.9" height="4.9" fill="#6da1d3" fill-opacity="0.7"/><rect x="132.3" y="107.8" width="4.9" height="4.9" fill="#6da1d3" fill-opacity="0.7"/><rect x="132.3" y="132.3" width="4.9" height="4.9" fill="#6da1d3" fill-opacity="0.7"/><rect x="137.2" y="93.1" width="4.9" height="4.9" fill="#6da1d3" fill-opacity="0.7"/><rect x="137.2" y="137.2" width="4.9" height="4.9" fill="#6da1d3" fill-opacity="0.7"/><rect x="142.1" y="117.6" width="4.9" height="4.9" fill="#6da1d3" fill-opacity="0.7"/><rect x="147.0" y="102.9" width="4.9" height="4.9" fill="#6da1d3" fill-opacity="0.7"/><rect x="147.0" y="112.7" width="4.9" height="4.9" fill="#6da1d3" fill-opacity="0.7"/><rect x="147.0" y="117.6" width="4.9" height="4.9" fill="#6da1d3" fill-opacity="0.7"/><rect x="151.9" y="122.5" width="4.9" height="4.9" fill="#6da1d3" fill-opacity="0.7"/><rect x="151.9" y="127.4" width="4.9" height="4.9" fill="#6da1d3" fill-opacity="0.7"/><rect x="151.9" y="132.3" width="4.9" height="4.9" fill="#6da1d3" fill-opacity="0.7"/><rect x="156.8" y="107.8" width="4.9" height="4.9" fill="#6da1d3" fill-opacity="0.7"/><rect x="156.8" y="127.4" width="4.9" height="4.9" fill="#6da1d3" fill-opacity="0.7"/><rect x="93.1" y="98.0" width="4.9" height="4.9" fill="#add2e8" fill-opacity="0.7"/><rect x="93.1" y="107.8" width="4.9" height="4.9" fill="#add2e8" fill-opacity="0.7"/><rect x="93.1" y="137.2" width="4.9" height="4.9" fill="#add2e8" fill-opacity="0.7"/><rect x="98.0" y="112.7" width="4.9" height="4.9" fill="#add2e8" fill-opacity="0.7"/><rect x="98.0" y="137.2" width="4.9" height="4.9" fill="#add2e8" fill-opacity="0.7"/><rect x="102.9" y="117.6" width="4.9" height="4.9" fill="#add2e8" fill-opacity="0.7"/><rect x="107.8" y="107.8" width="4.9" height="4.9" fill="#add2e8" fill-opacity="0.7"/><rect x="117.6" y="102.9" width="4.9" height="4.9" fill="#add2e8" fill-opacity="0.7"/><rect x="117.6" y="117.6" width="4.9" height="4.9" fill="#add2e8" fill-opacity="0.7"/><rect x="122.5" y="102.9" width="4.9" height="4.9" fill="#add2e8" fill-opacity="0.7"/><rect x="122.5" y="122.5" width="4.9" height="4.9" fill="#add2e8" fill-opacity="0.7"/><rect x="122.5" y="132.3" width="4.9" height="4.9" fill="#add2e8" fill-opacity="0.7"/><rect x="127.4" y="98.0" width="4.9" height="4.9" fill="#add2e8" fill-opacity="0.7"/><rect x="127.4" y="137.2" width="4.9" height="4.9" fill="#add2e8" fill-opacity="0.7"/><rect x="132.3" y="93.1" width="4.9" height="4.9" fill="#add2e8" fill-opacity="0.7"/><rect x="132.3" y="112.7" width="4.9" height="4.9" fill="#add2e8" fill-opacity="0.7"/><rect x="137.2" y="122.5" width="4.9" height="4.9" fill="#add2e8" fill-opacity="0.7"/><rect x="137.2" y="127.4" width="4.9" height="4.9" fill="#add2e8" fill-opacity="0.7"/><rect x="137.2" y="132.3" width="4.9" height="4.9" fill="#add2e8" fill-opacity="0.7"/><rect x="137.2" y="137.2" width="4.9" height="4.9" fill="#add2e8" fill-opacity="0.7"/><rect x="147.0" y="107.8" width="4.9" height="4.9" fill="#add2e8" fill-opacity="0.7"/><rect x="147.0" y="122.5" width="4.9" height="4.9" fill="#add2e8" fill-opacity="0.7"/><rect x="151.9" y="93.1" width="4.9" height="4.9" fill="#add2e8" fill-opacity="0.7"/><rect x="151.9" y="102.9" width="4.9" height="4.9" fill="#add2e8" fill-opacity="0.7"/><rect x="151.9" y="112.7" width="4.9" height="4.9" fill="#add2e8" fill-opacity="0.7"/><rect x="156.8" y="117.6" width="4.9" height="4.9" fill="#add2e8" fill-opacity="0.7"/><rect x="156.8" y="132.3" width="4.9" height="4.9" fill="#add2e8" fill-opacity="0.7"/><rect x="151.9" y="63.7" width="4.9" height="4.9" fill="#f2be78" fill-opacity="0.8"/><rect x="151.9" y="73.5" width="4.9" height="4.9" fill="#f2be78" fill-opacity="0.8"/><rect x="151.9" y="78.4" width="4.9" height="4.9" fill="#f2be78" fill-opacity="0.8"/><rect x="151.9" y="83.3" width="4.9" height="4.9" fill="#f2be78" fill-opacity="0.8"/><rect x="156.8" y="58.8" width="4.9" height="4.9" fill="#f2be78" fill-opacity="0.8"/><rect x="156.8" y="73.5" width="4.9" height="4.9" fill="#f2be78" fill-opacity="0.8"/><rect x="156.8" y="88.2" width="4.9" height="4.9" fill="#f2be78" fill-opacity="0.8"/><rect x="161.7" y="58.8" width="4.9" height="4.9" fill="#f2be78" fill-opacity="0.8"/><rect x="161.7" y="63.7" width="4.9" height="4.9" fill="#f2be78" fill-opacity="0.8"/><rect x="161.7" y="73.5" width="4.9" height="4.9" fill="#f2be78" fill-opacity="0.8"/><rect x="161.7" y="88.2" width="4.9" height="4.9" fill="#f2be78" fill-opacity="0.8"/><rect x="166.6" y="58.8" width="4.9" height="4.9" fill="#f2be78" fill-opacity="0.8"/><rect x="166.6" y="73.5" width="4.9" height="4.9" fill="#f2be78" fill-opacity="0.8"/><rect x="166.6" y="88.2" width="4.9" height="4.9" fill="#f2be78" fill-opacity="0.8"/><rect x="171.5" y="53.9" width="4.9" height="4.9" fill="#f2be78" fill-opacity="0.8"/><rect x="171.5" y="73.5" width="4.9" height="4.9" fill="#f2be78" fill-opacity="0.8"/><rect x="171.5" y="78.4" width="4.9" height="4.9" fill="#f2be78" fill-opacity="0.8"/></g>
<g filter="url(#bl2)"><rect x="51" y="90.5" width="10.5" height="3.5" fill="#5494d0" fill-opacity="1"/></g>
<g clip-path="url(#nw)"><rect x="0" y="0" width="180" height="145" fill="url(#tex)"/></g>
<g clip-path="url(#se)"><rect x="0" y="0" width="180" height="145" fill="url(#tex2)"/>
<use href="#jn"/></g>
<rect x="0" y="0" width="180" height="145" filter="url(#nz)" opacity="0.55"/>
<g filter="url(#bl3)"><ellipse cx="132.1" cy="59.9" rx="2.1" ry="4.5" fill="#1156b0" fill-opacity="1"/><ellipse cx="151.4" cy="58.6" rx="1.8" ry="2.6" fill="#1251ae" fill-opacity="1"/><ellipse cx="129.5" cy="69.5" rx="1.2" ry="1.2" fill="#f07a19" fill-opacity="1"/><ellipse cx="145.8" cy="69.7" rx="1.2" ry="1.2" fill="#f07a19" fill-opacity="1"/><ellipse cx="148.4" cy="64.4" rx="1.2" ry="1.2" fill="#f07a19" fill-opacity="1"/><ellipse cx="151.5" cy="100.5" rx="2.2" ry="3.2" fill="#f0a540" fill-opacity="1"/><ellipse cx="151.5" cy="101" rx="1.4" ry="2.2" fill="#dc2a0a" fill-opacity="1"/><ellipse cx="148.5" cy="110" rx="2" ry="3" fill="#ee812d" fill-opacity="1"/><ellipse cx="145.8" cy="116" rx="1.7" ry="2.6" fill="#c80707" fill-opacity="1"/><ellipse cx="149.2" cy="113" rx="1.4" ry="1.8" fill="#e0441d" fill-opacity="1"/><ellipse cx="172.5" cy="101.5" rx="1.8" ry="3" fill="#ee7a23" fill-opacity="1"/><ellipse cx="105.4" cy="121" rx="2.2" ry="5" fill="#f4922c" fill-opacity="1"/><ellipse cx="105.6" cy="121" rx="1.3" ry="3.2" fill="#e03d11" fill-opacity="1"/><ellipse cx="125.5" cy="134.4" rx="4.2" ry="2" fill="#e82c08" fill-opacity="1"/><ellipse cx="125.5" cy="133.6" rx="4" ry="0.9" fill="#f4922c" fill-opacity="1"/></g>
<path d="M40.1,19.7 L50,27.5 L61.2,36.6 M26.6,56 L34.4,60.8 L37.3,65.7 L39.2,70.5 L41.2,75.4 L42.1,80.2 L44,86 L46,91.8 M51.7,36.5 Q56,30 59,28 Q63,26.5 65.5,28.5 L68.5,27.5 M57,31 Q61,34 64.5,32.5 L66,35" stroke="#44525c" stroke-width="0.6" stroke-opacity="0.5" fill="none"/>
</g>
<text x="88.9" y="25.7" text-anchor="middle" font-family="Liberation Sans, Arial, sans-serif" font-size="11.8" fill="#000" stroke="#000" stroke-width="0.25">Param</text>
<rect x="115.1" y="15.4" width="54" height="14" fill="url(#cb)"/>
<text x="114.40" y="41.1" text-anchor="middle" font-family="Liberation Sans, Arial, sans-serif" font-size="9.4" fill="#000" stroke="#000" stroke-width="0.32" transform="translate(114.40,0) scale(0.83,1) translate(-114.40,0)">0.0</text>
<text x="127.70" y="41.1" text-anchor="middle" font-family="Liberation Sans, Arial, sans-serif" font-size="9.4" fill="#000" stroke="#000" stroke-width="0.32" transform="translate(127.70,0) scale(0.83,1) translate(-127.70,0)">0.1</text>
<text x="141.00" y="41.1" text-anchor="middle" font-family="Liberation Sans, Arial, sans-serif" font-size="9.4" fill="#000" stroke="#000" stroke-width="0.32" transform="translate(141.00,0) scale(0.83,1) translate(-141.00,0)">0.2</text>
<text x="154.30" y="41.1" text-anchor="middle" font-family="Liberation Sans, Arial, sans-serif" font-size="9.4" fill="#000" stroke="#000" stroke-width="0.32" transform="translate(154.30,0) scale(0.83,1) translate(-154.30,0)">0.3</text>
<text x="167.60" y="41.1" text-anchor="middle" font-family="Liberation Sans, Arial, sans-serif" font-size="9.4" fill="#000" stroke="#000" stroke-width="0.32" transform="translate(167.60,0) scale(0.83,1) translate(-167.60,0)">0.4</text>
</g>
</svg></body></html>
